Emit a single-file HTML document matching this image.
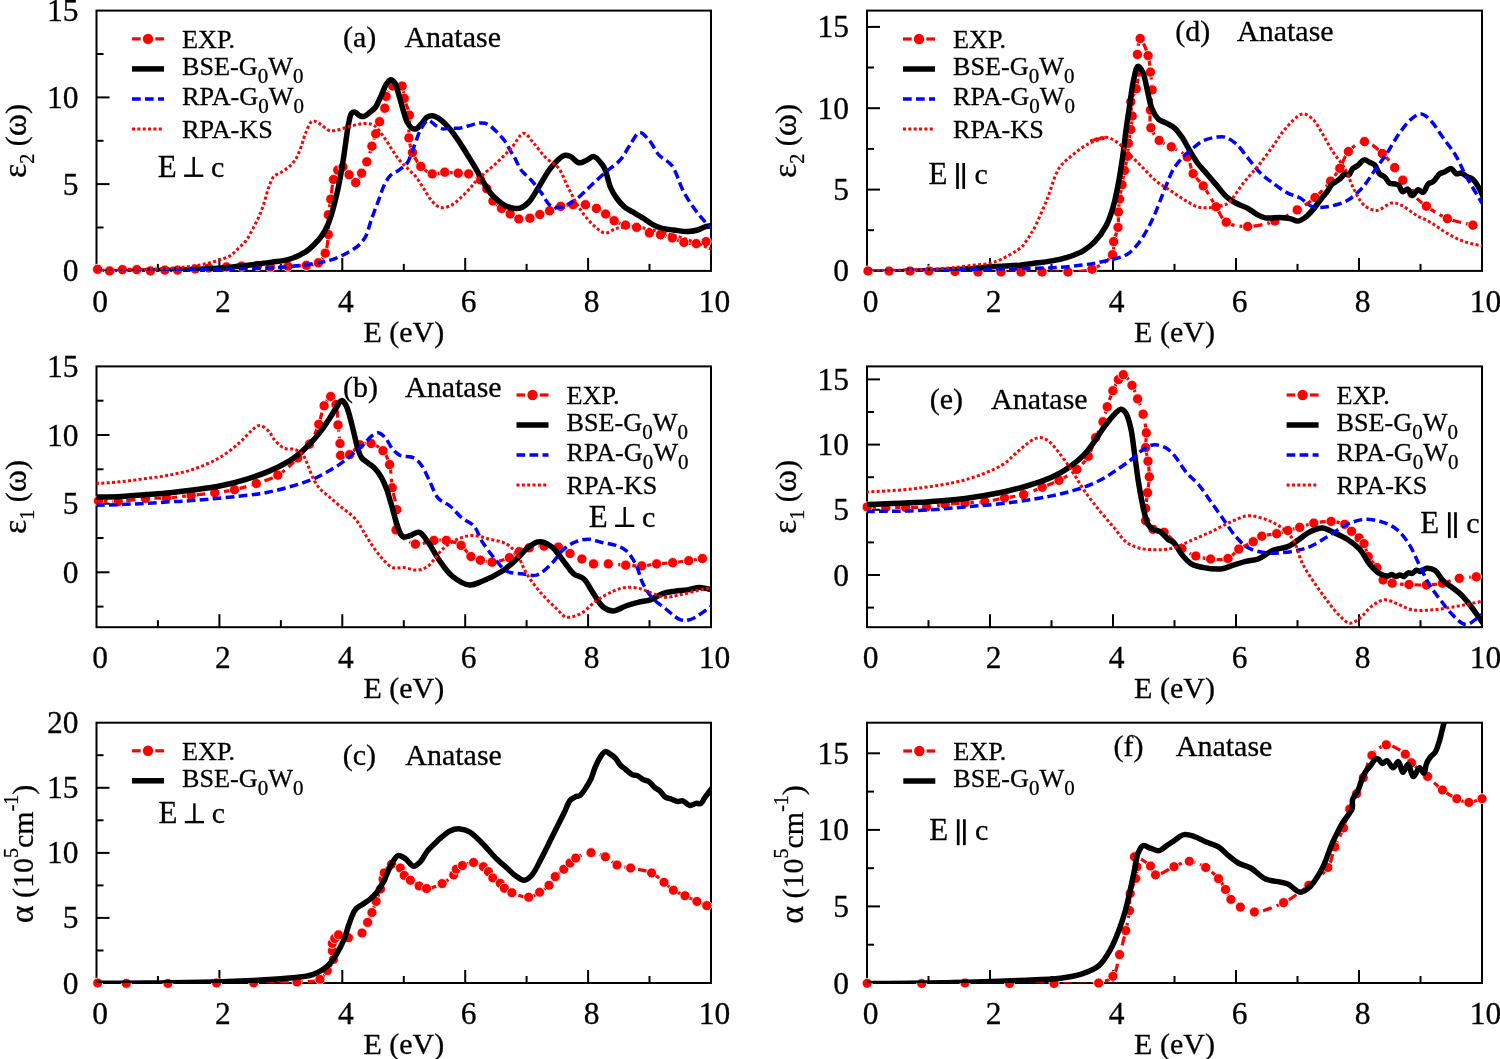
<!DOCTYPE html>
<html><head><meta charset="utf-8"><style>
html,body{margin:0;padding:0;background:#fff;}
svg{display:block;will-change:transform;}
text{font-family:"Liberation Serif", serif; fill:#000; stroke:#000; stroke-width:0.3px;}
.ax{stroke:#000;stroke-width:2;fill:none;}
.bse{stroke:#000;stroke-width:5.5;fill:none;stroke-linejoin:round;stroke-linecap:butt;}
.rpa{stroke:#00f;stroke-width:3.5;fill:none;stroke-dasharray:8.7 4.3;}
.ks{stroke:#f00;stroke-width:3;fill:none;stroke-dasharray:3 2.35;}
.expl{stroke:#f00;stroke-width:3.2;fill:none;stroke-dasharray:9 5;}
</style></head><body>
<svg width="1500" height="1059" viewBox="0 0 1500 1059">
<line x1="157.9" y1="270.9" x2="157.9" y2="263.9" class="ax"/>
<line x1="219.4" y1="270.9" x2="219.4" y2="257.9" class="ax"/>
<line x1="280.9" y1="270.9" x2="280.9" y2="263.9" class="ax"/>
<line x1="342.3" y1="270.9" x2="342.3" y2="257.9" class="ax"/>
<line x1="403.8" y1="270.9" x2="403.8" y2="263.9" class="ax"/>
<line x1="465.2" y1="270.9" x2="465.2" y2="257.9" class="ax"/>
<line x1="526.6" y1="270.9" x2="526.6" y2="263.9" class="ax"/>
<line x1="588.1" y1="270.9" x2="588.1" y2="257.9" class="ax"/>
<line x1="649.5" y1="270.9" x2="649.5" y2="263.9" class="ax"/>
<line x1="96.5" y1="227.5" x2="103.5" y2="227.5" class="ax"/>
<line x1="96.5" y1="184.1" x2="109.5" y2="184.1" class="ax"/>
<line x1="96.5" y1="140.8" x2="103.5" y2="140.8" class="ax"/>
<line x1="96.5" y1="97.4" x2="109.5" y2="97.4" class="ax"/>
<line x1="96.5" y1="54.0" x2="103.5" y2="54.0" class="ax"/>
<rect x="96.5" y="10.6" width="614.5" height="260.3" class="ax" fill="none"/>
<text x="100.0" y="311.9" font-size="31.5" text-anchor="middle" >0</text>
<text x="222.9" y="311.9" font-size="31.5" text-anchor="middle" >2</text>
<text x="345.8" y="311.9" font-size="31.5" text-anchor="middle" >4</text>
<text x="468.7" y="311.9" font-size="31.5" text-anchor="middle" >6</text>
<text x="591.6" y="311.9" font-size="31.5" text-anchor="middle" >8</text>
<text x="714.5" y="311.9" font-size="31.5" text-anchor="middle" >10</text>
<text x="78.5" y="281.4" font-size="31.5" text-anchor="end" >0</text>
<text x="78.5" y="194.6" font-size="31.5" text-anchor="end" >5</text>
<text x="78.5" y="107.9" font-size="31.5" text-anchor="end" >10</text>
<text x="78.5" y="21.1" font-size="31.5" text-anchor="end" >15</text>
<text x="403.8" y="341.9" font-size="30.0" text-anchor="middle" >E (eV)</text>
<line x1="157.9" y1="627.2" x2="157.9" y2="620.2" class="ax"/>
<line x1="219.4" y1="627.2" x2="219.4" y2="614.2" class="ax"/>
<line x1="280.9" y1="627.2" x2="280.9" y2="620.2" class="ax"/>
<line x1="342.3" y1="627.2" x2="342.3" y2="614.2" class="ax"/>
<line x1="403.8" y1="627.2" x2="403.8" y2="620.2" class="ax"/>
<line x1="465.2" y1="627.2" x2="465.2" y2="614.2" class="ax"/>
<line x1="526.6" y1="627.2" x2="526.6" y2="620.2" class="ax"/>
<line x1="588.1" y1="627.2" x2="588.1" y2="614.2" class="ax"/>
<line x1="649.5" y1="627.2" x2="649.5" y2="620.2" class="ax"/>
<line x1="96.5" y1="606.6" x2="103.5" y2="606.6" class="ax"/>
<line x1="96.5" y1="572.3" x2="109.5" y2="572.3" class="ax"/>
<line x1="96.5" y1="538.0" x2="103.5" y2="538.0" class="ax"/>
<line x1="96.5" y1="503.7" x2="109.5" y2="503.7" class="ax"/>
<line x1="96.5" y1="469.3" x2="103.5" y2="469.3" class="ax"/>
<line x1="96.5" y1="435.0" x2="109.5" y2="435.0" class="ax"/>
<line x1="96.5" y1="400.7" x2="103.5" y2="400.7" class="ax"/>
<rect x="96.5" y="366.4" width="614.5" height="260.8" class="ax" fill="none"/>
<text x="100.0" y="668.2" font-size="31.5" text-anchor="middle" >0</text>
<text x="222.9" y="668.2" font-size="31.5" text-anchor="middle" >2</text>
<text x="345.8" y="668.2" font-size="31.5" text-anchor="middle" >4</text>
<text x="468.7" y="668.2" font-size="31.5" text-anchor="middle" >6</text>
<text x="591.6" y="668.2" font-size="31.5" text-anchor="middle" >8</text>
<text x="714.5" y="668.2" font-size="31.5" text-anchor="middle" >10</text>
<text x="78.5" y="582.8" font-size="31.5" text-anchor="end" >0</text>
<text x="78.5" y="514.2" font-size="31.5" text-anchor="end" >5</text>
<text x="78.5" y="445.5" font-size="31.5" text-anchor="end" >10</text>
<text x="78.5" y="376.9" font-size="31.5" text-anchor="end" >15</text>
<text x="403.8" y="698.2" font-size="30.0" text-anchor="middle" >E (eV)</text>
<line x1="157.9" y1="983.0" x2="157.9" y2="976.0" class="ax"/>
<line x1="219.4" y1="983.0" x2="219.4" y2="970.0" class="ax"/>
<line x1="280.9" y1="983.0" x2="280.9" y2="976.0" class="ax"/>
<line x1="342.3" y1="983.0" x2="342.3" y2="970.0" class="ax"/>
<line x1="403.8" y1="983.0" x2="403.8" y2="976.0" class="ax"/>
<line x1="465.2" y1="983.0" x2="465.2" y2="970.0" class="ax"/>
<line x1="526.6" y1="983.0" x2="526.6" y2="976.0" class="ax"/>
<line x1="588.1" y1="983.0" x2="588.1" y2="970.0" class="ax"/>
<line x1="649.5" y1="983.0" x2="649.5" y2="976.0" class="ax"/>
<line x1="96.5" y1="950.5" x2="103.5" y2="950.5" class="ax"/>
<line x1="96.5" y1="917.9" x2="109.5" y2="917.9" class="ax"/>
<line x1="96.5" y1="885.4" x2="103.5" y2="885.4" class="ax"/>
<line x1="96.5" y1="852.9" x2="109.5" y2="852.9" class="ax"/>
<line x1="96.5" y1="820.3" x2="103.5" y2="820.3" class="ax"/>
<line x1="96.5" y1="787.8" x2="109.5" y2="787.8" class="ax"/>
<line x1="96.5" y1="755.2" x2="103.5" y2="755.2" class="ax"/>
<rect x="96.5" y="722.7" width="614.5" height="260.3" class="ax" fill="none"/>
<text x="100.0" y="1024.0" font-size="31.5" text-anchor="middle" >0</text>
<text x="222.9" y="1024.0" font-size="31.5" text-anchor="middle" >2</text>
<text x="345.8" y="1024.0" font-size="31.5" text-anchor="middle" >4</text>
<text x="468.7" y="1024.0" font-size="31.5" text-anchor="middle" >6</text>
<text x="591.6" y="1024.0" font-size="31.5" text-anchor="middle" >8</text>
<text x="714.5" y="1024.0" font-size="31.5" text-anchor="middle" >10</text>
<text x="78.5" y="993.5" font-size="31.5" text-anchor="end" >0</text>
<text x="78.5" y="928.4" font-size="31.5" text-anchor="end" >5</text>
<text x="78.5" y="863.4" font-size="31.5" text-anchor="end" >10</text>
<text x="78.5" y="798.3" font-size="31.5" text-anchor="end" >15</text>
<text x="78.5" y="733.2" font-size="31.5" text-anchor="end" >20</text>
<text x="403.8" y="1054.0" font-size="30.0" text-anchor="middle" >E (eV)</text>
<line x1="928.5" y1="270.9" x2="928.5" y2="263.9" class="ax"/>
<line x1="990.0" y1="270.9" x2="990.0" y2="257.9" class="ax"/>
<line x1="1051.5" y1="270.9" x2="1051.5" y2="263.9" class="ax"/>
<line x1="1113.0" y1="270.9" x2="1113.0" y2="257.9" class="ax"/>
<line x1="1174.5" y1="270.9" x2="1174.5" y2="263.9" class="ax"/>
<line x1="1236.0" y1="270.9" x2="1236.0" y2="257.9" class="ax"/>
<line x1="1297.5" y1="270.9" x2="1297.5" y2="263.9" class="ax"/>
<line x1="1359.0" y1="270.9" x2="1359.0" y2="257.9" class="ax"/>
<line x1="1420.5" y1="270.9" x2="1420.5" y2="263.9" class="ax"/>
<line x1="867.0" y1="230.2" x2="874.0" y2="230.2" class="ax"/>
<line x1="867.0" y1="189.6" x2="880.0" y2="189.6" class="ax"/>
<line x1="867.0" y1="148.9" x2="874.0" y2="148.9" class="ax"/>
<line x1="867.0" y1="108.2" x2="880.0" y2="108.2" class="ax"/>
<line x1="867.0" y1="67.5" x2="874.0" y2="67.5" class="ax"/>
<line x1="867.0" y1="26.9" x2="880.0" y2="26.9" class="ax"/>
<rect x="867.0" y="10.6" width="615.0" height="260.3" class="ax" fill="none"/>
<text x="870.5" y="311.9" font-size="31.5" text-anchor="middle" >0</text>
<text x="993.5" y="311.9" font-size="31.5" text-anchor="middle" >2</text>
<text x="1116.5" y="311.9" font-size="31.5" text-anchor="middle" >4</text>
<text x="1239.5" y="311.9" font-size="31.5" text-anchor="middle" >6</text>
<text x="1362.5" y="311.9" font-size="31.5" text-anchor="middle" >8</text>
<text x="1485.5" y="311.9" font-size="31.5" text-anchor="middle" >10</text>
<text x="849.0" y="281.4" font-size="31.5" text-anchor="end" >0</text>
<text x="849.0" y="200.1" font-size="31.5" text-anchor="end" >5</text>
<text x="849.0" y="118.7" font-size="31.5" text-anchor="end" >10</text>
<text x="849.0" y="37.4" font-size="31.5" text-anchor="end" >15</text>
<text x="1174.5" y="341.9" font-size="30.0" text-anchor="middle" >E (eV)</text>
<line x1="928.5" y1="627.2" x2="928.5" y2="620.2" class="ax"/>
<line x1="990.0" y1="627.2" x2="990.0" y2="614.2" class="ax"/>
<line x1="1051.5" y1="627.2" x2="1051.5" y2="620.2" class="ax"/>
<line x1="1113.0" y1="627.2" x2="1113.0" y2="614.2" class="ax"/>
<line x1="1174.5" y1="627.2" x2="1174.5" y2="620.2" class="ax"/>
<line x1="1236.0" y1="627.2" x2="1236.0" y2="614.2" class="ax"/>
<line x1="1297.5" y1="627.2" x2="1297.5" y2="620.2" class="ax"/>
<line x1="1359.0" y1="627.2" x2="1359.0" y2="614.2" class="ax"/>
<line x1="1420.5" y1="627.2" x2="1420.5" y2="620.2" class="ax"/>
<line x1="867.0" y1="607.6" x2="874.0" y2="607.6" class="ax"/>
<line x1="867.0" y1="575.0" x2="880.0" y2="575.0" class="ax"/>
<line x1="867.0" y1="542.4" x2="874.0" y2="542.4" class="ax"/>
<line x1="867.0" y1="509.8" x2="880.0" y2="509.8" class="ax"/>
<line x1="867.0" y1="477.2" x2="874.0" y2="477.2" class="ax"/>
<line x1="867.0" y1="444.6" x2="880.0" y2="444.6" class="ax"/>
<line x1="867.0" y1="412.0" x2="874.0" y2="412.0" class="ax"/>
<line x1="867.0" y1="379.4" x2="880.0" y2="379.4" class="ax"/>
<rect x="867.0" y="366.4" width="615.0" height="260.8" class="ax" fill="none"/>
<text x="870.5" y="668.2" font-size="31.5" text-anchor="middle" >0</text>
<text x="993.5" y="668.2" font-size="31.5" text-anchor="middle" >2</text>
<text x="1116.5" y="668.2" font-size="31.5" text-anchor="middle" >4</text>
<text x="1239.5" y="668.2" font-size="31.5" text-anchor="middle" >6</text>
<text x="1362.5" y="668.2" font-size="31.5" text-anchor="middle" >8</text>
<text x="1485.5" y="668.2" font-size="31.5" text-anchor="middle" >10</text>
<text x="849.0" y="585.5" font-size="31.5" text-anchor="end" >0</text>
<text x="849.0" y="520.3" font-size="31.5" text-anchor="end" >5</text>
<text x="849.0" y="455.1" font-size="31.5" text-anchor="end" >10</text>
<text x="849.0" y="389.9" font-size="31.5" text-anchor="end" >15</text>
<text x="1174.5" y="698.2" font-size="30.0" text-anchor="middle" >E (eV)</text>
<line x1="928.5" y1="983.0" x2="928.5" y2="976.0" class="ax"/>
<line x1="990.0" y1="983.0" x2="990.0" y2="970.0" class="ax"/>
<line x1="1051.5" y1="983.0" x2="1051.5" y2="976.0" class="ax"/>
<line x1="1113.0" y1="983.0" x2="1113.0" y2="970.0" class="ax"/>
<line x1="1174.5" y1="983.0" x2="1174.5" y2="976.0" class="ax"/>
<line x1="1236.0" y1="983.0" x2="1236.0" y2="970.0" class="ax"/>
<line x1="1297.5" y1="983.0" x2="1297.5" y2="976.0" class="ax"/>
<line x1="1359.0" y1="983.0" x2="1359.0" y2="970.0" class="ax"/>
<line x1="1420.5" y1="983.0" x2="1420.5" y2="976.0" class="ax"/>
<line x1="867.0" y1="944.7" x2="874.0" y2="944.7" class="ax"/>
<line x1="867.0" y1="906.4" x2="880.0" y2="906.4" class="ax"/>
<line x1="867.0" y1="868.2" x2="874.0" y2="868.2" class="ax"/>
<line x1="867.0" y1="829.9" x2="880.0" y2="829.9" class="ax"/>
<line x1="867.0" y1="791.6" x2="874.0" y2="791.6" class="ax"/>
<line x1="867.0" y1="753.3" x2="880.0" y2="753.3" class="ax"/>
<rect x="867.0" y="722.7" width="615.0" height="260.3" class="ax" fill="none"/>
<text x="870.5" y="1024.0" font-size="31.5" text-anchor="middle" >0</text>
<text x="993.5" y="1024.0" font-size="31.5" text-anchor="middle" >2</text>
<text x="1116.5" y="1024.0" font-size="31.5" text-anchor="middle" >4</text>
<text x="1239.5" y="1024.0" font-size="31.5" text-anchor="middle" >6</text>
<text x="1362.5" y="1024.0" font-size="31.5" text-anchor="middle" >8</text>
<text x="1485.5" y="1024.0" font-size="31.5" text-anchor="middle" >10</text>
<text x="849.0" y="993.5" font-size="31.5" text-anchor="end" >0</text>
<text x="849.0" y="916.9" font-size="31.5" text-anchor="end" >5</text>
<text x="849.0" y="840.4" font-size="31.5" text-anchor="end" >10</text>
<text x="849.0" y="763.8" font-size="31.5" text-anchor="end" >15</text>
<text x="1174.5" y="1054.0" font-size="30.0" text-anchor="middle" >E (eV)</text>
<defs><clipPath id="cpA"><rect x="96.5" y="10.6" width="614.5" height="260.3"/></clipPath></defs>
<g clip-path="url(#cpA)">
<path d="M97.6,269.3 C101.6,269.9 105.5,270.9 109.6,270.9 C113.8,271.0 118.0,269.9 122.4,269.6 C127.1,269.4 132.1,269.4 136.8,269.6 C141.4,269.9 145.8,270.8 150.4,270.9 C155.1,271.0 160.1,270.2 164.8,270.1 C169.2,270.0 173.0,270.3 177.6,270.1 C183.0,269.9 189.7,269.4 195.2,269.0 C200.0,268.7 204.0,268.4 208.8,268.0 C214.3,267.7 220.7,267.2 226.4,266.9 C231.7,266.6 236.5,266.3 241.6,266.1 C246.9,265.9 252.6,265.5 257.6,265.6 C262.1,265.8 265.8,266.8 270.4,266.9 C275.8,267.1 282.1,266.5 288.0,266.3 C294.1,266.0 300.9,266.0 306.4,265.3 C310.9,264.7 315.2,264.8 318.4,262.8 C321.5,260.7 323.6,257.2 325.2,253.2 C327.3,248.2 327.8,240.9 328.3,234.5 C328.8,228.1 327.8,221.0 328.3,214.8 C328.8,209.3 330.0,204.7 330.8,199.2 C331.7,193.0 332.0,184.8 333.5,179.5 C334.6,175.7 335.8,172.2 337.7,170.1 C339.1,168.5 341.2,166.7 342.9,167.0 C345.0,167.4 347.0,172.1 349.1,174.7 C351.3,177.3 353.7,182.7 355.7,182.6 C357.9,182.4 359.8,176.6 361.6,173.2 C363.5,169.7 365.1,166.0 366.8,161.8 C368.6,157.1 370.4,151.2 371.9,146.2 C373.3,141.9 374.4,137.9 375.7,133.8 C377.0,129.7 378.2,125.8 379.6,121.7 C381.2,117.3 383.8,112.6 384.8,108.2 C385.8,104.2 384.8,100.0 386.1,96.4 C387.4,92.6 389.8,87.6 392.7,86.0 C395.3,84.6 400.1,84.3 402.1,86.0 C404.3,87.9 403.1,94.0 404.2,98.4 C405.4,103.6 408.5,109.0 409.4,115.1 C410.3,122.0 408.2,131.2 408.9,137.9 C409.5,143.4 410.6,147.8 412.5,152.5 C414.5,157.3 417.3,162.8 420.8,166.4 C424.0,169.7 428.1,172.9 432.2,173.9 C436.1,174.8 440.4,172.3 444.7,172.2 C449.1,172.1 454.0,173.0 458.2,173.2 C461.9,173.5 465.1,172.9 468.6,173.9 C472.6,175.0 477.5,177.3 480.6,180.0 C483.4,182.4 484.8,185.4 486.8,188.7 C489.0,192.3 490.3,197.6 492.9,201.0 C495.3,204.0 498.6,206.2 501.6,208.4 C504.4,210.5 507.3,212.3 510.2,214.0 C513.0,215.8 515.6,218.2 518.8,219.0 C522.2,219.7 526.4,219.0 529.9,218.2 C533.3,217.5 536.5,215.8 539.8,214.5 C543.1,213.3 546.2,212.1 549.6,210.8 C553.2,209.4 556.9,207.4 560.7,206.4 C564.7,205.4 568.9,205.0 573.0,204.7 C577.1,204.4 581.4,204.0 585.4,204.7 C589.2,205.3 593.0,206.8 596.4,208.4 C599.7,209.9 602.6,212.0 605.6,214.0 C608.5,216.1 611.0,218.9 614.2,220.7 C617.6,222.6 621.7,224.0 625.5,225.1 C629.2,226.2 632.8,226.2 636.6,227.3 C640.8,228.7 645.2,231.8 649.4,233.0 C653.2,234.1 656.8,233.9 660.5,234.7 C664.4,235.6 668.5,236.7 672.3,237.9 C676.3,239.2 679.9,241.4 683.9,242.4 C687.9,243.3 692.4,243.8 696.2,243.6 C699.7,243.4 702.8,242.3 706.1,241.6" class="expl"/>
</g>
<circle cx="97.6" cy="269.3" r="5.10" fill="#f00" stroke="#fff" stroke-width="0.8"/>
<circle cx="109.6" cy="270.9" r="5.10" fill="#f00" stroke="#fff" stroke-width="0.8"/>
<circle cx="122.4" cy="269.6" r="5.10" fill="#f00" stroke="#fff" stroke-width="0.8"/>
<circle cx="136.8" cy="269.6" r="5.10" fill="#f00" stroke="#fff" stroke-width="0.8"/>
<circle cx="150.4" cy="270.9" r="5.10" fill="#f00" stroke="#fff" stroke-width="0.8"/>
<circle cx="164.8" cy="270.1" r="5.10" fill="#f00" stroke="#fff" stroke-width="0.8"/>
<circle cx="177.6" cy="270.1" r="5.10" fill="#f00" stroke="#fff" stroke-width="0.8"/>
<circle cx="195.2" cy="269.0" r="5.10" fill="#f00" stroke="#fff" stroke-width="0.8"/>
<circle cx="208.8" cy="268.0" r="5.10" fill="#f00" stroke="#fff" stroke-width="0.8"/>
<circle cx="226.4" cy="266.9" r="5.10" fill="#f00" stroke="#fff" stroke-width="0.8"/>
<circle cx="241.6" cy="266.1" r="5.10" fill="#f00" stroke="#fff" stroke-width="0.8"/>
<circle cx="257.6" cy="265.6" r="5.10" fill="#f00" stroke="#fff" stroke-width="0.8"/>
<circle cx="270.4" cy="266.9" r="5.10" fill="#f00" stroke="#fff" stroke-width="0.8"/>
<circle cx="288.0" cy="266.3" r="5.10" fill="#f00" stroke="#fff" stroke-width="0.8"/>
<circle cx="306.4" cy="265.3" r="5.10" fill="#f00" stroke="#fff" stroke-width="0.8"/>
<circle cx="318.4" cy="262.8" r="5.10" fill="#f00" stroke="#fff" stroke-width="0.8"/>
<circle cx="325.2" cy="253.2" r="5.10" fill="#f00" stroke="#fff" stroke-width="0.8"/>
<circle cx="328.3" cy="234.5" r="5.10" fill="#f00" stroke="#fff" stroke-width="0.8"/>
<circle cx="328.3" cy="214.8" r="5.10" fill="#f00" stroke="#fff" stroke-width="0.8"/>
<circle cx="330.8" cy="199.2" r="5.10" fill="#f00" stroke="#fff" stroke-width="0.8"/>
<circle cx="333.5" cy="179.5" r="5.10" fill="#f00" stroke="#fff" stroke-width="0.8"/>
<circle cx="337.7" cy="170.1" r="5.10" fill="#f00" stroke="#fff" stroke-width="0.8"/>
<circle cx="342.9" cy="167.0" r="5.10" fill="#f00" stroke="#fff" stroke-width="0.8"/>
<circle cx="349.1" cy="174.7" r="5.10" fill="#f00" stroke="#fff" stroke-width="0.8"/>
<circle cx="355.7" cy="182.6" r="5.10" fill="#f00" stroke="#fff" stroke-width="0.8"/>
<circle cx="361.6" cy="173.2" r="5.10" fill="#f00" stroke="#fff" stroke-width="0.8"/>
<circle cx="366.8" cy="161.8" r="5.10" fill="#f00" stroke="#fff" stroke-width="0.8"/>
<circle cx="371.9" cy="146.2" r="5.10" fill="#f00" stroke="#fff" stroke-width="0.8"/>
<circle cx="375.7" cy="133.8" r="5.10" fill="#f00" stroke="#fff" stroke-width="0.8"/>
<circle cx="379.6" cy="121.7" r="5.10" fill="#f00" stroke="#fff" stroke-width="0.8"/>
<circle cx="384.8" cy="108.2" r="5.10" fill="#f00" stroke="#fff" stroke-width="0.8"/>
<circle cx="386.1" cy="96.4" r="5.10" fill="#f00" stroke="#fff" stroke-width="0.8"/>
<circle cx="392.7" cy="86.0" r="5.10" fill="#f00" stroke="#fff" stroke-width="0.8"/>
<circle cx="402.1" cy="86.0" r="5.10" fill="#f00" stroke="#fff" stroke-width="0.8"/>
<circle cx="404.2" cy="98.4" r="5.10" fill="#f00" stroke="#fff" stroke-width="0.8"/>
<circle cx="409.4" cy="115.1" r="5.10" fill="#f00" stroke="#fff" stroke-width="0.8"/>
<circle cx="408.9" cy="137.9" r="5.10" fill="#f00" stroke="#fff" stroke-width="0.8"/>
<circle cx="412.5" cy="152.5" r="5.10" fill="#f00" stroke="#fff" stroke-width="0.8"/>
<circle cx="420.8" cy="166.4" r="5.10" fill="#f00" stroke="#fff" stroke-width="0.8"/>
<circle cx="432.2" cy="173.9" r="5.10" fill="#f00" stroke="#fff" stroke-width="0.8"/>
<circle cx="444.7" cy="172.2" r="5.10" fill="#f00" stroke="#fff" stroke-width="0.8"/>
<circle cx="458.2" cy="173.2" r="5.10" fill="#f00" stroke="#fff" stroke-width="0.8"/>
<circle cx="468.6" cy="173.9" r="5.10" fill="#f00" stroke="#fff" stroke-width="0.8"/>
<circle cx="480.6" cy="180.0" r="5.10" fill="#f00" stroke="#fff" stroke-width="0.8"/>
<circle cx="486.8" cy="188.7" r="5.10" fill="#f00" stroke="#fff" stroke-width="0.8"/>
<circle cx="492.9" cy="201.0" r="5.10" fill="#f00" stroke="#fff" stroke-width="0.8"/>
<circle cx="501.6" cy="208.4" r="5.10" fill="#f00" stroke="#fff" stroke-width="0.8"/>
<circle cx="510.2" cy="214.0" r="5.10" fill="#f00" stroke="#fff" stroke-width="0.8"/>
<circle cx="518.8" cy="219.0" r="5.10" fill="#f00" stroke="#fff" stroke-width="0.8"/>
<circle cx="529.9" cy="218.2" r="5.10" fill="#f00" stroke="#fff" stroke-width="0.8"/>
<circle cx="539.8" cy="214.5" r="5.10" fill="#f00" stroke="#fff" stroke-width="0.8"/>
<circle cx="549.6" cy="210.8" r="5.10" fill="#f00" stroke="#fff" stroke-width="0.8"/>
<circle cx="560.7" cy="206.4" r="5.10" fill="#f00" stroke="#fff" stroke-width="0.8"/>
<circle cx="573.0" cy="204.7" r="5.10" fill="#f00" stroke="#fff" stroke-width="0.8"/>
<circle cx="585.4" cy="204.7" r="5.10" fill="#f00" stroke="#fff" stroke-width="0.8"/>
<circle cx="596.4" cy="208.4" r="5.10" fill="#f00" stroke="#fff" stroke-width="0.8"/>
<circle cx="605.6" cy="214.0" r="5.10" fill="#f00" stroke="#fff" stroke-width="0.8"/>
<circle cx="614.2" cy="220.7" r="5.10" fill="#f00" stroke="#fff" stroke-width="0.8"/>
<circle cx="625.5" cy="225.1" r="5.10" fill="#f00" stroke="#fff" stroke-width="0.8"/>
<circle cx="636.6" cy="227.3" r="5.10" fill="#f00" stroke="#fff" stroke-width="0.8"/>
<circle cx="649.4" cy="233.0" r="5.10" fill="#f00" stroke="#fff" stroke-width="0.8"/>
<circle cx="660.5" cy="234.7" r="5.10" fill="#f00" stroke="#fff" stroke-width="0.8"/>
<circle cx="672.3" cy="237.9" r="5.10" fill="#f00" stroke="#fff" stroke-width="0.8"/>
<circle cx="683.9" cy="242.4" r="5.10" fill="#f00" stroke="#fff" stroke-width="0.8"/>
<circle cx="696.2" cy="243.6" r="5.10" fill="#f00" stroke="#fff" stroke-width="0.8"/>
<circle cx="706.1" cy="241.6" r="5.10" fill="#f00" stroke="#fff" stroke-width="0.8"/>
<g clip-path="url(#cpA)">
<path d="M96.0,272.5 C106.7,272.3 117.3,272.0 128.0,271.7 C138.7,271.4 149.3,271.0 160.0,270.6 C170.7,270.2 181.3,270.0 192.0,269.5 C202.7,269.0 213.3,268.6 224.0,267.7 C234.7,266.8 247.2,265.3 256.0,264.2 C262.3,263.4 266.7,262.9 272.0,262.1 C277.3,261.4 282.6,261.3 288.0,259.7 C293.8,258.0 301.0,254.8 305.6,251.9 C309.2,249.6 311.5,247.1 314.2,244.5 C316.6,242.1 318.9,239.8 321.0,236.9 C323.5,233.4 325.9,229.2 327.8,224.9 C329.9,220.2 331.4,214.8 332.9,209.5 C334.5,204.0 335.9,198.2 337.2,192.5 C338.5,186.8 339.5,181.3 340.6,175.4 C341.8,168.9 343.0,161.6 344.0,154.9 C345.0,148.5 345.7,142.0 346.6,136.1 C347.4,130.7 348.1,124.9 349.2,120.7 C349.9,117.7 350.3,114.3 351.7,113.1 C352.6,112.2 354.0,112.0 355.1,112.2 C356.6,112.5 357.9,114.9 359.4,115.6 C360.8,116.2 362.2,116.8 363.7,116.5 C365.7,116.1 368.0,113.7 370.0,112.2 C371.8,110.8 373.5,109.8 375.1,107.8 C377.4,104.8 379.4,99.4 381.3,95.3 C383.1,91.4 384.6,86.6 386.5,83.9 C387.8,82.0 389.2,79.8 390.6,79.7 C392.0,79.6 393.6,81.2 394.8,82.9 C396.7,85.5 397.6,91.0 399.0,95.3 C400.4,100.0 401.7,105.2 403.1,109.9 C404.5,114.2 405.4,119.0 407.3,122.3 C408.7,124.9 410.6,127.7 412.5,128.6 C413.8,129.2 415.3,129.1 416.6,128.6 C418.4,127.8 420.1,125.2 421.8,123.4 C423.6,121.4 425.1,118.4 427.0,117.1 C428.6,116.1 430.4,115.6 432.2,115.7 C434.2,115.8 436.5,117.0 438.4,118.2 C440.6,119.5 442.7,121.4 444.7,123.4 C446.8,125.5 449.0,127.9 451.0,130.3 C453.0,132.8 454.8,135.4 456.7,138.1 C458.6,140.8 460.5,143.7 462.3,146.6 C464.3,149.6 466.1,152.7 468.0,155.8 C469.9,158.9 471.8,161.9 473.7,165.0 C475.6,168.2 477.5,171.6 479.3,174.9 C481.2,178.2 483.1,181.7 485.0,184.8 C486.8,187.8 488.5,190.7 490.7,193.3 C492.8,195.9 495.3,198.4 497.8,200.4 C500.0,202.3 502.3,204.1 504.8,205.4 C507.5,206.7 510.7,207.8 513.3,208.2 C515.7,208.6 517.8,208.9 520.0,208.2 C522.8,207.3 525.9,205.0 528.7,202.2 C532.2,198.6 535.1,192.7 538.5,187.4 C542.5,181.4 546.2,173.3 550.9,167.7 C555.0,162.8 560.5,156.5 564.4,155.4 C566.7,154.8 568.4,155.7 570.6,156.6 C573.3,157.8 576.3,162.4 579.2,162.8 C581.7,163.2 584.2,161.3 586.6,160.3 C589.1,159.3 591.6,156.2 594.0,156.6 C596.9,157.1 600.6,162.5 602.6,165.2 C604.1,167.2 604.6,168.6 605.6,171.0 C607.2,175.0 608.4,182.4 610.4,187.2 C612.2,191.4 614.4,195.1 616.9,198.5 C619.3,201.8 622.1,205.0 624.9,207.4 C627.5,209.4 630.2,210.5 633.0,212.2 C636.1,214.0 639.5,215.9 642.7,217.9 C646.0,219.9 649.1,222.5 652.4,224.3 C655.5,226.0 658.7,227.4 662.1,228.4 C665.6,229.3 669.4,229.5 673.4,230.0 C677.9,230.5 683.6,231.7 687.9,231.6 C691.5,231.5 694.6,230.8 697.6,230.0 C700.5,229.2 702.9,227.5 705.7,226.7 C708.3,225.9 711.0,225.7 713.7,225.1" class="bse"/>
<path d="M96.0,272.2 C117.3,271.7 138.7,271.1 160.0,270.6 C181.3,270.1 204.2,269.5 224.0,269.0 C241.1,268.6 260.3,268.4 272.0,267.9 C278.8,267.6 282.7,267.4 288.0,266.9 C293.3,266.4 298.7,265.7 304.0,265.0 C309.3,264.3 315.0,263.6 320.0,262.6 C324.5,261.7 328.4,261.0 332.8,259.4 C337.8,257.6 343.8,254.8 348.3,252.2 C352.2,250.1 355.7,248.1 358.6,245.4 C361.3,242.9 363.4,240.5 365.4,236.9 C368.1,232.0 369.7,224.0 371.9,217.9 C374.0,212.2 376.1,206.8 378.2,201.3 C380.3,195.8 382.0,189.3 384.4,184.7 C386.3,181.0 388.1,177.8 390.6,175.3 C393.0,173.0 396.3,172.1 399.0,170.1 C401.8,168.0 405.2,165.7 407.3,162.9 C409.3,160.2 410.0,156.9 411.3,153.7 C412.8,150.1 414.0,146.3 415.6,142.3 C417.3,137.9 418.8,132.0 421.3,128.2 C423.3,125.0 425.8,120.7 428.3,120.4 C430.6,120.1 433.0,123.9 435.4,125.3 C437.7,126.7 440.1,128.4 442.5,128.9 C444.8,129.3 447.0,128.3 449.6,128.2 C452.6,128.0 456.4,128.6 459.5,128.2 C462.5,127.8 465.1,126.8 468.0,126.0 C471.2,125.2 474.9,123.6 477.9,123.2 C480.5,122.9 482.7,122.6 485.0,123.2 C487.5,123.9 489.8,125.7 492.1,127.5 C494.6,129.4 497.0,132.2 499.2,134.5 C501.2,136.7 503.1,138.5 504.8,140.9 C506.9,143.8 508.7,147.8 510.5,150.8 C512.0,153.4 513.2,155.2 514.8,157.9 C516.7,161.4 518.6,166.5 521.3,170.2 C524.0,173.9 528.0,176.5 531.1,180.0 C534.5,183.8 537.8,188.1 541.0,192.4 C544.3,196.7 547.0,203.6 550.9,205.9 C553.8,207.7 557.2,207.7 560.7,207.1 C565.3,206.4 570.8,203.0 575.5,199.7 C580.7,196.2 585.4,190.7 590.3,186.2 C595.2,181.7 600.1,177.0 605.1,172.6 C609.9,168.4 615.7,164.9 619.9,160.3 C623.9,155.9 626.4,150.3 629.7,145.5 C632.9,141.0 636.1,132.9 639.6,132.5 C642.7,132.1 646.4,137.2 649.4,140.6 C653.0,144.6 655.4,151.2 659.3,155.4 C662.9,159.3 668.0,160.6 671.6,165.2 C676.6,171.7 679.3,183.9 683.9,192.4 C688.3,200.3 693.8,208.2 698.7,214.5 C702.8,219.8 706.9,223.6 711.0,228.1" class="rpa"/>
<path d="M96.0,270.6 C112.0,270.2 129.6,270.0 144.0,269.5 C155.7,269.0 166.1,268.7 176.0,267.9 C184.6,267.2 192.8,266.3 200.0,265.0 C205.9,263.9 210.9,262.6 216.0,261.0 C220.9,259.5 226.1,258.2 230.0,255.9 C233.3,253.9 235.4,251.2 238.1,248.6 C240.8,246.0 243.8,243.6 246.2,240.5 C248.7,237.2 250.5,233.2 252.6,229.2 C254.8,225.1 257.2,220.7 259.1,216.3 C260.9,212.1 262.4,208.0 263.9,203.4 C265.6,198.3 267.0,192.0 268.8,187.2 C270.3,183.3 271.3,179.3 273.6,176.7 C275.7,174.4 279.0,173.6 281.7,171.9 C284.4,170.1 287.4,168.5 289.8,166.2 C292.2,163.9 294.4,161.2 296.2,158.2 C298.2,154.8 299.5,150.9 301.1,146.8 C302.8,142.3 303.9,136.8 305.9,132.3 C307.8,128.2 309.6,122.0 312.4,121.0 C314.7,120.2 317.7,122.8 320.5,124.2 C323.6,125.9 325.9,129.9 330.0,130.7 C335.9,131.8 346.7,126.7 353.2,125.5 C358.0,124.5 362.0,123.2 365.7,123.4 C368.8,123.5 371.5,123.9 374.0,125.5 C377.1,127.3 379.7,131.4 382.3,134.8 C385.2,138.6 387.9,143.1 390.6,147.3 C393.4,151.4 396.0,156.1 399.0,159.7 C401.6,162.9 404.5,165.3 407.3,168.1 C410.0,170.8 413.0,173.2 415.6,176.4 C418.5,180.0 421.1,184.7 423.9,188.8 C426.7,193.0 429.1,198.0 432.2,201.3 C434.8,204.0 437.4,206.8 440.5,207.5 C443.6,208.2 447.6,207.0 450.9,205.5 C454.6,203.7 458.1,200.0 461.3,197.1 C464.3,194.5 467.0,191.7 469.6,188.8 C472.2,186.0 473.7,183.3 476.9,180.0 C481.8,175.1 490.6,168.4 496.6,162.8 C502.0,157.8 506.8,153.0 511.4,148.0 C515.8,143.2 519.8,133.4 523.7,133.2 C527.1,133.1 530.2,139.4 533.6,143.1 C537.6,147.4 541.6,153.6 545.9,157.9 C549.9,161.7 554.8,163.4 558.2,167.7 C562.4,172.8 564.6,180.7 568.1,187.4 C571.9,194.6 575.8,202.9 580.4,209.6 C584.8,216.0 590.5,222.8 595.2,226.9 C598.6,229.8 601.5,232.7 605.1,233.0 C608.9,233.4 612.7,229.1 617.4,228.1 C623.1,226.8 631.3,226.5 637.1,226.9 C641.7,227.2 644.9,228.3 649.4,229.3 C655.2,230.6 662.8,232.6 669.1,234.2 C675.1,235.8 680.2,237.1 686.4,239.2 C693.9,241.8 702.8,245.7 711.0,249.0" class="ks"/>
</g>
<line x1="132.0" y1="38.9" x2="140.7" y2="38.9" class="expl" stroke-dasharray="none"/>
<line x1="155.3" y1="38.9" x2="164.0" y2="38.9" class="expl" stroke-dasharray="none"/>
<circle cx="148.0" cy="38.9" r="5.2" fill="#f00"/>
<line x1="132.0" y1="68.9" x2="164.0" y2="68.9" class="bse"/>
<line x1="132.0" y1="98.9" x2="164.0" y2="98.9" class="rpa" stroke-dasharray="8.7 4.3"/>
<line x1="132.0" y1="128.9" x2="164.0" y2="128.9" class="ks"/>
<text x="182.0" y="48.0" font-size="26.2" text-anchor="start" >EXP.</text>
<text x="182.0" y="74.7" font-size="26.2" text-anchor="start" >BSE-G<tspan font-size="21" dy="8">0</tspan><tspan dy="-8">W</tspan><tspan font-size="21" dy="8">0</tspan></text>
<text x="182.0" y="104.7" font-size="26.2" text-anchor="start" >RPA-G<tspan font-size="21" dy="8">0</tspan><tspan dy="-8">W</tspan><tspan font-size="21" dy="8">0</tspan></text>
<text x="182.0" y="138.1" font-size="26.2" text-anchor="start" >RPA-KS</text>
<text x="343.0" y="47.3" font-size="30.0" text-anchor="start" >(a)</text>
<text x="404.4" y="47.2" font-size="30.0" text-anchor="start" >Anatase</text>
<text x="157.7" y="176.9" font-size="31.0" text-anchor="start" >E</text>
<line x1="193.7" y1="156.9" x2="193.7" y2="175.7" stroke="#000" stroke-width="2.4"/>
<line x1="184.1" y1="175.7" x2="203.3" y2="175.7" stroke="#000" stroke-width="2.4"/>
<text x="211.1" y="176.9" font-size="30.0" text-anchor="start" >c</text>
<text transform="translate(26.0,141.0) rotate(-90)" font-size="30" text-anchor="middle"><tspan font-size="34">&#949;</tspan><tspan font-size="20" dy="8">2</tspan><tspan dy="-8"> (</tspan><tspan font-size="34">&#969;</tspan>)</text>
<defs><clipPath id="cpB"><rect x="96.5" y="366.4" width="614.5" height="260.8"/></clipPath></defs>
<g clip-path="url(#cpB)">
<path d="M98.5,500.8 C105.1,501.1 111.2,501.9 118.3,501.6 C126.6,501.2 137.0,499.0 145.5,498.4 C152.9,497.8 159.2,498.3 166.5,497.9 C174.4,497.4 183.1,496.3 191.2,495.4 C199.2,494.5 207.3,493.7 214.8,492.7 C221.6,491.8 227.8,491.2 234.5,489.7 C241.7,488.2 249.1,485.9 256.3,483.5 C263.6,481.1 271.1,479.2 277.8,475.2 C285.0,470.9 292.1,463.6 297.7,458.0 C302.4,453.3 306.2,449.4 309.6,444.1 C313.3,438.3 316.4,430.9 318.8,424.3 C321.1,418.1 321.7,410.7 324.1,405.8 C326.0,402.0 328.7,396.5 330.7,396.5 C332.6,396.6 334.8,401.0 336.0,404.5 C337.8,409.5 337.3,418.3 338.0,424.9 C338.6,431.3 339.5,438.0 340.0,443.5 C340.3,447.9 338.7,453.6 340.6,455.4 C342.3,456.8 346.8,456.0 349.6,454.7 C353.2,453.1 356.0,446.6 359.8,444.8 C363.2,443.2 367.4,442.7 371.1,443.5 C375.1,444.3 379.9,447.3 383.0,450.7 C386.2,454.3 388.0,459.2 389.6,464.6 C391.5,471.2 391.0,480.2 392.2,487.7 C393.4,495.2 396.2,502.4 396.8,509.6 C397.4,516.4 393.3,524.4 396.0,530.0 C398.9,536.1 408.6,542.7 415.4,544.1 C421.3,545.4 428.3,541.0 433.9,540.4 C438.4,540.0 442.0,539.7 446.3,540.4 C451.1,541.2 457.0,542.6 461.1,545.4 C465.2,548.0 467.5,554.0 471.0,556.5 C474.0,558.6 477.1,559.3 480.4,560.2 C484.1,561.2 487.8,562.4 492.1,562.2 C497.3,562.0 504.5,559.8 509.4,557.7 C513.3,556.1 515.9,553.2 519.3,551.6 C522.5,550.0 525.5,548.7 529.2,547.8 C533.6,546.8 539.1,546.2 544.0,546.1 C548.8,546.0 554.0,545.8 558.4,547.1 C562.6,548.3 566.1,551.5 570.0,553.5 C573.9,555.5 577.9,557.2 581.9,559.0 C585.8,560.7 589.3,563.1 593.5,563.9 C598.1,564.9 603.2,563.7 608.3,563.9 C613.9,564.1 620.0,564.8 625.7,565.2 C631.1,565.5 636.5,566.1 641.7,565.9 C646.8,565.7 651.5,564.5 656.6,563.9 C661.8,563.4 667.3,563.2 672.7,562.7 C678.0,562.1 683.6,561.4 688.7,560.7 C693.5,560.0 697.8,559.2 702.4,558.5" class="expl"/>
</g>
<circle cx="98.5" cy="500.8" r="5.10" fill="#f00" stroke="#fff" stroke-width="0.8"/>
<circle cx="118.3" cy="501.6" r="5.10" fill="#f00" stroke="#fff" stroke-width="0.8"/>
<circle cx="145.5" cy="498.4" r="5.10" fill="#f00" stroke="#fff" stroke-width="0.8"/>
<circle cx="166.5" cy="497.9" r="5.10" fill="#f00" stroke="#fff" stroke-width="0.8"/>
<circle cx="191.2" cy="495.4" r="5.10" fill="#f00" stroke="#fff" stroke-width="0.8"/>
<circle cx="214.8" cy="492.7" r="5.10" fill="#f00" stroke="#fff" stroke-width="0.8"/>
<circle cx="234.5" cy="489.7" r="5.10" fill="#f00" stroke="#fff" stroke-width="0.8"/>
<circle cx="256.3" cy="483.5" r="5.10" fill="#f00" stroke="#fff" stroke-width="0.8"/>
<circle cx="277.8" cy="475.2" r="5.10" fill="#f00" stroke="#fff" stroke-width="0.8"/>
<circle cx="297.7" cy="458.0" r="5.10" fill="#f00" stroke="#fff" stroke-width="0.8"/>
<circle cx="309.6" cy="444.1" r="5.10" fill="#f00" stroke="#fff" stroke-width="0.8"/>
<circle cx="318.8" cy="424.3" r="5.10" fill="#f00" stroke="#fff" stroke-width="0.8"/>
<circle cx="324.1" cy="405.8" r="5.10" fill="#f00" stroke="#fff" stroke-width="0.8"/>
<circle cx="330.7" cy="396.5" r="5.10" fill="#f00" stroke="#fff" stroke-width="0.8"/>
<circle cx="336.0" cy="404.5" r="5.10" fill="#f00" stroke="#fff" stroke-width="0.8"/>
<circle cx="338.0" cy="424.9" r="5.10" fill="#f00" stroke="#fff" stroke-width="0.8"/>
<circle cx="340.0" cy="443.5" r="5.10" fill="#f00" stroke="#fff" stroke-width="0.8"/>
<circle cx="340.6" cy="455.4" r="5.10" fill="#f00" stroke="#fff" stroke-width="0.8"/>
<circle cx="349.6" cy="454.7" r="5.10" fill="#f00" stroke="#fff" stroke-width="0.8"/>
<circle cx="359.8" cy="444.8" r="5.10" fill="#f00" stroke="#fff" stroke-width="0.8"/>
<circle cx="371.1" cy="443.5" r="5.10" fill="#f00" stroke="#fff" stroke-width="0.8"/>
<circle cx="383.0" cy="450.7" r="5.10" fill="#f00" stroke="#fff" stroke-width="0.8"/>
<circle cx="389.6" cy="464.6" r="5.10" fill="#f00" stroke="#fff" stroke-width="0.8"/>
<circle cx="392.2" cy="487.7" r="5.10" fill="#f00" stroke="#fff" stroke-width="0.8"/>
<circle cx="396.8" cy="509.6" r="5.10" fill="#f00" stroke="#fff" stroke-width="0.8"/>
<circle cx="396.0" cy="530.0" r="5.10" fill="#f00" stroke="#fff" stroke-width="0.8"/>
<circle cx="415.4" cy="544.1" r="5.10" fill="#f00" stroke="#fff" stroke-width="0.8"/>
<circle cx="433.9" cy="540.4" r="5.10" fill="#f00" stroke="#fff" stroke-width="0.8"/>
<circle cx="446.3" cy="540.4" r="5.10" fill="#f00" stroke="#fff" stroke-width="0.8"/>
<circle cx="461.1" cy="545.4" r="5.10" fill="#f00" stroke="#fff" stroke-width="0.8"/>
<circle cx="471.0" cy="556.5" r="5.10" fill="#f00" stroke="#fff" stroke-width="0.8"/>
<circle cx="480.4" cy="560.2" r="5.10" fill="#f00" stroke="#fff" stroke-width="0.8"/>
<circle cx="492.1" cy="562.2" r="5.10" fill="#f00" stroke="#fff" stroke-width="0.8"/>
<circle cx="509.4" cy="557.7" r="5.10" fill="#f00" stroke="#fff" stroke-width="0.8"/>
<circle cx="519.3" cy="551.6" r="5.10" fill="#f00" stroke="#fff" stroke-width="0.8"/>
<circle cx="529.2" cy="547.8" r="5.10" fill="#f00" stroke="#fff" stroke-width="0.8"/>
<circle cx="544.0" cy="546.1" r="5.10" fill="#f00" stroke="#fff" stroke-width="0.8"/>
<circle cx="558.4" cy="547.1" r="5.10" fill="#f00" stroke="#fff" stroke-width="0.8"/>
<circle cx="570.0" cy="553.5" r="5.10" fill="#f00" stroke="#fff" stroke-width="0.8"/>
<circle cx="581.9" cy="559.0" r="5.10" fill="#f00" stroke="#fff" stroke-width="0.8"/>
<circle cx="593.5" cy="563.9" r="5.10" fill="#f00" stroke="#fff" stroke-width="0.8"/>
<circle cx="608.3" cy="563.9" r="5.10" fill="#f00" stroke="#fff" stroke-width="0.8"/>
<circle cx="625.7" cy="565.2" r="5.10" fill="#f00" stroke="#fff" stroke-width="0.8"/>
<circle cx="641.7" cy="565.9" r="5.10" fill="#f00" stroke="#fff" stroke-width="0.8"/>
<circle cx="656.6" cy="563.9" r="5.10" fill="#f00" stroke="#fff" stroke-width="0.8"/>
<circle cx="672.7" cy="562.7" r="5.10" fill="#f00" stroke="#fff" stroke-width="0.8"/>
<circle cx="688.7" cy="560.7" r="5.10" fill="#f00" stroke="#fff" stroke-width="0.8"/>
<circle cx="702.4" cy="558.5" r="5.10" fill="#f00" stroke="#fff" stroke-width="0.8"/>
<g clip-path="url(#cpB)">
<path d="M96.0,497.1 C104.2,496.9 112.5,496.8 120.7,496.4 C129.0,496.0 137.2,495.3 145.5,494.6 C153.7,494.0 162.0,493.5 170.2,492.7 C178.5,491.8 186.7,490.8 195.0,489.7 C203.2,488.6 211.5,487.6 219.7,486.0 C228.0,484.3 236.3,482.3 244.4,479.8 C252.7,477.3 261.5,474.4 269.2,471.1 C276.2,468.2 283.5,464.6 289.0,461.2 C293.2,458.7 296.2,456.3 299.7,453.4 C303.3,450.4 306.9,446.9 310.2,443.5 C313.5,440.1 316.5,436.7 319.5,432.9 C322.7,428.8 326.0,423.9 328.7,419.7 C331.2,416.0 333.4,412.2 335.4,409.1 C336.9,406.6 338.0,404.0 339.3,402.5 C340.2,401.5 341.0,400.4 342.0,400.5 C343.2,400.6 344.8,403.1 345.9,405.1 C347.6,408.1 348.7,412.7 349.9,417.0 C351.3,421.9 352.5,427.6 353.9,432.9 C355.2,438.2 356.3,444.2 357.8,448.7 C359.0,452.3 359.9,455.5 361.8,458.0 C363.5,460.3 366.2,461.5 368.4,463.3 C370.6,465.1 373.0,466.4 375.0,468.6 C377.4,471.1 379.7,474.4 381.6,477.8 C383.7,481.5 385.4,485.6 386.9,489.7 C388.5,494.0 389.1,497.6 390.9,503.0 C393.7,511.6 398.0,533.8 403.0,536.7 C405.3,538.0 407.9,536.1 410.4,535.5 C413.2,534.7 416.4,531.6 419.1,532.3 C422.2,533.0 424.8,537.8 427.7,541.7 C431.7,546.9 435.8,555.5 440.1,561.4 C444.1,566.9 447.5,572.4 452.5,576.3 C457.4,580.2 464.4,584.5 469.8,585.0 C474.2,585.3 477.6,583.0 482.2,581.2 C488.1,578.9 496.0,575.2 502.0,571.3 C507.5,567.7 512.2,563.2 516.8,559.0 C521.2,554.9 525.0,549.6 529.2,546.6 C532.5,544.2 535.6,541.8 539.1,541.7 C542.9,541.5 547.6,543.8 551.4,546.6 C556.0,549.9 559.9,556.7 563.8,561.4 C567.3,565.7 570.1,570.9 573.7,573.8 C576.8,576.3 580.6,576.1 583.6,578.8 C587.4,582.1 590.2,588.8 593.5,593.6 C596.8,598.3 599.6,604.3 603.4,607.2 C606.4,609.5 609.8,611.0 613.3,610.9 C617.2,610.9 621.5,607.4 625.7,606.0 C629.8,604.6 633.9,603.3 638.0,602.3 C642.1,601.2 646.4,601.2 650.4,599.8 C654.6,598.3 658.5,595.1 662.8,593.6 C666.8,592.2 671.0,591.8 675.1,591.1 C679.3,590.5 683.4,590.5 687.5,589.9 C691.7,589.3 695.8,587.4 699.9,587.4 C704.0,587.4 708.1,589.1 712.3,589.9" class="bse"/>
<path d="M96.0,505.3 C104.2,505.0 112.5,504.9 120.7,504.5 C129.0,504.2 137.2,503.8 145.5,503.3 C153.7,502.9 162.0,502.3 170.2,501.8 C178.5,501.3 184.8,501.2 195.0,500.3 C211.5,499.0 246.6,495.7 260.0,493.7 C266.1,492.8 268.8,492.0 273.2,491.1 C277.6,490.1 282.0,489.0 286.4,487.7 C290.9,486.5 295.3,485.2 299.7,483.8 C304.1,482.3 308.5,481.0 312.9,479.2 C317.3,477.3 321.7,474.9 326.1,472.5 C330.6,470.1 335.0,467.6 339.3,464.6 C343.8,461.5 348.4,457.5 352.5,454.0 C356.3,450.9 359.8,447.9 363.1,444.8 C366.4,441.7 369.3,437.5 372.4,435.5 C374.6,434.1 376.9,432.6 379.0,432.9 C381.3,433.2 383.6,435.9 385.6,438.2 C388.1,440.9 389.7,445.8 392.2,448.7 C394.5,451.4 396.8,453.8 400.0,455.4 C403.8,457.2 410.2,456.0 414.0,458.0 C417.4,459.8 419.6,462.6 422.0,466.0 C425.0,470.2 427.3,476.7 430.0,482.0 C432.7,487.3 434.4,493.9 438.0,498.0 C441.2,501.7 446.1,502.8 450.0,506.0 C454.2,509.4 457.8,514.6 462.0,518.0 C465.9,521.2 470.7,522.4 474.0,526.0 C477.6,530.0 478.8,536.3 482.2,541.7 C486.2,548.0 492.4,556.1 497.0,561.4 C500.5,565.5 502.9,569.3 506.9,571.3 C511.1,573.5 516.8,573.2 521.8,573.8 C526.7,574.4 531.9,576.4 536.6,575.1 C541.8,573.5 546.9,568.2 551.4,563.9 C556.0,559.6 559.3,552.9 563.8,549.1 C567.7,545.8 571.9,543.3 576.2,541.7 C580.2,540.1 584.4,539.1 588.6,539.2 C592.7,539.3 596.6,541.2 600.9,542.2 C605.6,543.2 611.4,543.8 615.8,545.4 C619.5,546.7 622.6,547.8 625.7,550.3 C629.4,553.5 632.8,558.7 635.6,563.9 C638.7,569.7 639.9,577.7 643.0,583.7 C645.8,589.2 649.0,594.4 652.9,598.6 C656.5,602.5 660.9,605.1 665.2,608.5 C669.9,612.1 675.4,618.0 680.1,619.6 C683.5,620.7 686.2,620.7 690.0,619.6 C696.1,617.9 704.8,610.5 712.3,606.0" class="rpa"/>
<path d="M96.0,483.5 C104.2,482.9 112.5,482.6 120.7,481.8 C129.0,481.0 137.2,479.7 145.5,478.6 C153.7,477.4 162.0,476.5 170.2,474.9 C178.5,473.2 186.8,471.5 195.0,468.7 C203.3,465.8 212.1,462.0 219.7,457.5 C226.9,453.3 233.8,447.6 239.5,442.7 C244.3,438.6 248.1,433.4 251.9,430.3 C254.5,428.1 256.6,425.4 259.3,425.4 C262.3,425.3 266.8,429.1 269.2,431.6 C271.1,433.5 271.4,435.9 273.2,438.2 C275.8,441.3 280.0,446.3 283.8,448.1 C287.1,449.6 291.2,448.3 294.4,449.4 C297.3,450.4 300.2,451.8 302.3,454.0 C304.7,456.6 305.9,460.9 307.6,464.6 C309.4,468.7 310.8,473.8 312.9,477.8 C314.8,481.6 316.8,485.3 319.5,488.4 C322.1,491.5 325.6,493.6 328.7,496.3 C332.2,499.3 335.4,502.3 339.3,505.6 C344.1,509.6 350.5,513.5 355.2,518.8 C360.2,524.6 363.8,532.7 368.1,539.2 C372.2,545.2 376.1,551.6 380.5,556.5 C384.4,560.9 388.5,566.0 392.9,567.6 C396.4,569.0 400.1,567.3 404.0,567.6 C408.4,568.0 413.7,570.5 417.8,570.1 C421.5,569.8 424.4,568.7 427.7,566.4 C432.6,563.0 437.3,553.8 442.6,549.1 C447.3,544.9 452.3,541.5 457.4,539.2 C462.2,537.1 467.1,535.6 472.3,535.5 C477.8,535.4 483.8,537.7 489.6,539.2 C495.4,540.6 502.2,541.4 506.9,544.1 C511.0,546.6 513.8,549.9 516.8,554.0 C520.6,559.3 522.7,567.4 526.7,573.8 C530.9,580.6 536.4,587.7 541.5,593.6 C546.3,599.1 551.9,604.2 556.4,608.5 C560.0,611.8 562.4,616.2 566.3,617.1 C570.5,618.1 576.4,615.8 581.1,613.4 C586.4,610.7 590.7,604.7 596.0,601.0 C601.4,597.3 607.9,593.5 613.3,591.1 C617.6,589.3 621.3,587.9 625.7,587.4 C630.3,586.9 635.9,587.6 640.5,588.7 C644.9,589.7 648.7,592.2 652.9,593.6 C657.0,595.0 660.9,597.0 665.2,597.3 C669.9,597.6 674.8,595.9 680.1,594.8 C686.2,593.6 694.0,591.2 699.9,589.9 C704.5,588.9 708.1,588.2 712.3,587.4" class="ks"/>
</g>
<line x1="516.5" y1="395.0" x2="525.2" y2="395.0" class="expl" stroke-dasharray="none"/>
<line x1="539.8" y1="395.0" x2="548.5" y2="395.0" class="expl" stroke-dasharray="none"/>
<circle cx="532.5" cy="395.0" r="5.2" fill="#f00"/>
<line x1="516.5" y1="425.0" x2="548.5" y2="425.0" class="bse"/>
<line x1="516.5" y1="455.0" x2="548.5" y2="455.0" class="rpa" stroke-dasharray="8.7 4.3"/>
<line x1="516.5" y1="485.0" x2="548.5" y2="485.0" class="ks"/>
<text x="566.5" y="404.1" font-size="26.2" text-anchor="start" >EXP.</text>
<text x="566.5" y="430.8" font-size="26.2" text-anchor="start" >BSE-G<tspan font-size="21" dy="8">0</tspan><tspan dy="-8">W</tspan><tspan font-size="21" dy="8">0</tspan></text>
<text x="566.5" y="460.8" font-size="26.2" text-anchor="start" >RPA-G<tspan font-size="21" dy="8">0</tspan><tspan dy="-8">W</tspan><tspan font-size="21" dy="8">0</tspan></text>
<text x="566.5" y="494.2" font-size="26.2" text-anchor="start" >RPA-KS</text>
<text x="343.0" y="397.0" font-size="30.0" text-anchor="start" >(b)</text>
<text x="405.0" y="397.0" font-size="30.0" text-anchor="start" >Anatase</text>
<text x="588.7" y="527.0" font-size="31.0" text-anchor="start" >E</text>
<line x1="624.7" y1="507.0" x2="624.7" y2="525.8" stroke="#000" stroke-width="2.4"/>
<line x1="615.1" y1="525.8" x2="634.3" y2="525.8" stroke="#000" stroke-width="2.4"/>
<text x="642.1" y="527.0" font-size="30.0" text-anchor="start" >c</text>
<text transform="translate(26.0,497.0) rotate(-90)" font-size="30" text-anchor="middle"><tspan font-size="34">&#949;</tspan><tspan font-size="20" dy="8">1</tspan><tspan dy="-8"> (</tspan><tspan font-size="34">&#969;</tspan>)</text>
<defs><clipPath id="cpC"><rect x="96.5" y="722.7" width="614.5" height="260.3"/></clipPath></defs>
<g clip-path="url(#cpC)">
<path d="M97.7,983.0 C107.2,983.1 115.9,983.3 126.3,983.4 C138.9,983.5 153.5,983.5 167.9,983.4 C183.5,983.3 201.4,983.0 216.5,982.9 C229.7,982.8 240.8,983.0 253.7,982.9 C267.6,982.8 284.9,982.8 297.0,982.0 C305.9,981.4 314.7,982.1 319.9,979.3 C323.6,977.3 325.1,973.8 327.3,970.6 C329.7,967.3 332.8,963.1 333.5,959.5 C334.1,956.5 332.5,953.6 332.3,950.8 C332.1,948.3 331.8,945.6 332.3,943.4 C332.7,941.6 333.7,939.9 334.7,938.5 C335.8,937.1 336.8,935.2 338.5,934.8 C340.8,934.2 344.8,937.8 348.4,937.7 C352.5,937.6 358.7,935.8 362.0,933.0 C364.9,930.5 366.0,925.9 367.6,922.4 C369.2,919.1 370.5,915.9 371.9,912.5 C373.3,908.9 374.7,905.2 376.1,901.4 C377.5,897.4 379.3,892.9 380.5,889.0 C381.6,885.5 382.3,882.0 383.0,879.1 C383.5,876.8 383.2,875.0 384.2,872.9 C385.6,870.1 388.8,864.9 391.6,864.3 C394.2,863.7 398.2,866.0 400.3,868.0 C402.3,869.8 402.5,873.3 404.2,875.4 C405.9,877.4 408.1,878.7 410.4,880.3 C413.0,882.2 416.2,884.6 419.1,886.0 C421.6,887.2 423.6,888.5 426.5,888.5 C430.7,888.5 437.4,885.9 442.1,883.6 C446.5,881.3 451.4,877.8 453.7,874.9 C455.2,873.0 454.8,870.7 456.2,869.2 C457.6,867.5 459.9,866.5 462.4,865.5 C465.5,864.2 469.9,862.3 473.5,862.5 C476.9,862.8 480.8,865.0 483.4,866.7 C485.5,868.1 486.8,869.9 488.4,871.7 C490.0,873.6 491.0,876.0 492.8,877.9 C494.8,879.9 498.2,881.4 500.2,883.3 C501.9,884.9 502.7,886.8 504.4,888.3 C506.5,890.0 508.8,891.4 511.9,892.7 C516.2,894.6 523.7,897.6 528.7,897.2 C532.8,896.8 536.2,894.2 539.6,892.2 C542.9,890.2 546.3,888.0 549.0,885.3 C551.5,882.7 552.7,879.3 555.2,876.6 C557.7,873.9 561.2,871.6 563.8,869.2 C566.1,867.1 567.9,864.9 570.0,863.0 C571.9,861.2 573.1,859.6 575.7,858.1 C579.4,855.9 586.0,852.8 591.0,852.6 C595.9,852.5 601.0,854.7 605.4,856.8 C609.6,858.9 612.8,863.1 617.0,865.0 C621.2,866.8 625.6,866.8 630.6,868.0 C636.9,869.4 645.8,870.2 651.6,872.9 C656.6,875.3 660.2,879.3 664.0,882.3 C667.4,885.0 670.0,888.0 673.4,890.2 C676.9,892.5 681.1,893.8 685.0,895.7 C689.0,897.5 693.1,899.7 696.9,901.4 C700.3,902.9 703.5,904.2 706.8,905.6" class="expl"/>
</g>
<circle cx="97.7" cy="983.0" r="5.00" fill="#f00" stroke="#fff" stroke-width="0.8"/>
<circle cx="126.3" cy="983.4" r="5.00" fill="#f00" stroke="#fff" stroke-width="0.8"/>
<circle cx="167.9" cy="983.4" r="5.00" fill="#f00" stroke="#fff" stroke-width="0.8"/>
<circle cx="216.5" cy="982.9" r="5.00" fill="#f00" stroke="#fff" stroke-width="0.8"/>
<circle cx="253.7" cy="982.9" r="5.00" fill="#f00" stroke="#fff" stroke-width="0.8"/>
<circle cx="297.0" cy="982.0" r="5.00" fill="#f00" stroke="#fff" stroke-width="0.8"/>
<circle cx="319.9" cy="979.3" r="5.00" fill="#f00" stroke="#fff" stroke-width="0.8"/>
<circle cx="327.3" cy="970.6" r="5.00" fill="#f00" stroke="#fff" stroke-width="0.8"/>
<circle cx="333.5" cy="959.5" r="5.00" fill="#f00" stroke="#fff" stroke-width="0.8"/>
<circle cx="332.3" cy="950.8" r="5.00" fill="#f00" stroke="#fff" stroke-width="0.8"/>
<circle cx="332.3" cy="943.4" r="5.00" fill="#f00" stroke="#fff" stroke-width="0.8"/>
<circle cx="334.7" cy="938.5" r="5.00" fill="#f00" stroke="#fff" stroke-width="0.8"/>
<circle cx="338.5" cy="934.8" r="5.00" fill="#f00" stroke="#fff" stroke-width="0.8"/>
<circle cx="348.4" cy="937.7" r="5.00" fill="#f00" stroke="#fff" stroke-width="0.8"/>
<circle cx="362.0" cy="933.0" r="5.00" fill="#f00" stroke="#fff" stroke-width="0.8"/>
<circle cx="367.6" cy="922.4" r="5.00" fill="#f00" stroke="#fff" stroke-width="0.8"/>
<circle cx="371.9" cy="912.5" r="5.00" fill="#f00" stroke="#fff" stroke-width="0.8"/>
<circle cx="376.1" cy="901.4" r="5.00" fill="#f00" stroke="#fff" stroke-width="0.8"/>
<circle cx="380.5" cy="889.0" r="5.00" fill="#f00" stroke="#fff" stroke-width="0.8"/>
<circle cx="383.0" cy="879.1" r="5.00" fill="#f00" stroke="#fff" stroke-width="0.8"/>
<circle cx="384.2" cy="872.9" r="5.00" fill="#f00" stroke="#fff" stroke-width="0.8"/>
<circle cx="391.6" cy="864.3" r="5.00" fill="#f00" stroke="#fff" stroke-width="0.8"/>
<circle cx="400.3" cy="868.0" r="5.00" fill="#f00" stroke="#fff" stroke-width="0.8"/>
<circle cx="404.2" cy="875.4" r="5.00" fill="#f00" stroke="#fff" stroke-width="0.8"/>
<circle cx="410.4" cy="880.3" r="5.00" fill="#f00" stroke="#fff" stroke-width="0.8"/>
<circle cx="419.1" cy="886.0" r="5.00" fill="#f00" stroke="#fff" stroke-width="0.8"/>
<circle cx="426.5" cy="888.5" r="5.00" fill="#f00" stroke="#fff" stroke-width="0.8"/>
<circle cx="442.1" cy="883.6" r="5.00" fill="#f00" stroke="#fff" stroke-width="0.8"/>
<circle cx="453.7" cy="874.9" r="5.00" fill="#f00" stroke="#fff" stroke-width="0.8"/>
<circle cx="456.2" cy="869.2" r="5.00" fill="#f00" stroke="#fff" stroke-width="0.8"/>
<circle cx="462.4" cy="865.5" r="5.00" fill="#f00" stroke="#fff" stroke-width="0.8"/>
<circle cx="473.5" cy="862.5" r="5.00" fill="#f00" stroke="#fff" stroke-width="0.8"/>
<circle cx="483.4" cy="866.7" r="5.00" fill="#f00" stroke="#fff" stroke-width="0.8"/>
<circle cx="488.4" cy="871.7" r="5.00" fill="#f00" stroke="#fff" stroke-width="0.8"/>
<circle cx="492.8" cy="877.9" r="5.00" fill="#f00" stroke="#fff" stroke-width="0.8"/>
<circle cx="500.2" cy="883.3" r="5.00" fill="#f00" stroke="#fff" stroke-width="0.8"/>
<circle cx="504.4" cy="888.3" r="5.00" fill="#f00" stroke="#fff" stroke-width="0.8"/>
<circle cx="511.9" cy="892.7" r="5.00" fill="#f00" stroke="#fff" stroke-width="0.8"/>
<circle cx="528.7" cy="897.2" r="5.00" fill="#f00" stroke="#fff" stroke-width="0.8"/>
<circle cx="539.6" cy="892.2" r="5.00" fill="#f00" stroke="#fff" stroke-width="0.8"/>
<circle cx="549.0" cy="885.3" r="5.00" fill="#f00" stroke="#fff" stroke-width="0.8"/>
<circle cx="555.2" cy="876.6" r="5.00" fill="#f00" stroke="#fff" stroke-width="0.8"/>
<circle cx="563.8" cy="869.2" r="5.00" fill="#f00" stroke="#fff" stroke-width="0.8"/>
<circle cx="570.0" cy="863.0" r="5.00" fill="#f00" stroke="#fff" stroke-width="0.8"/>
<circle cx="575.7" cy="858.1" r="5.00" fill="#f00" stroke="#fff" stroke-width="0.8"/>
<circle cx="591.0" cy="852.6" r="5.00" fill="#f00" stroke="#fff" stroke-width="0.8"/>
<circle cx="605.4" cy="856.8" r="5.00" fill="#f00" stroke="#fff" stroke-width="0.8"/>
<circle cx="617.0" cy="865.0" r="5.00" fill="#f00" stroke="#fff" stroke-width="0.8"/>
<circle cx="630.6" cy="868.0" r="5.00" fill="#f00" stroke="#fff" stroke-width="0.8"/>
<circle cx="651.6" cy="872.9" r="5.00" fill="#f00" stroke="#fff" stroke-width="0.8"/>
<circle cx="664.0" cy="882.3" r="5.00" fill="#f00" stroke="#fff" stroke-width="0.8"/>
<circle cx="673.4" cy="890.2" r="5.00" fill="#f00" stroke="#fff" stroke-width="0.8"/>
<circle cx="685.0" cy="895.7" r="5.00" fill="#f00" stroke="#fff" stroke-width="0.8"/>
<circle cx="696.9" cy="901.4" r="5.00" fill="#f00" stroke="#fff" stroke-width="0.8"/>
<circle cx="706.8" cy="905.6" r="5.00" fill="#f00" stroke="#fff" stroke-width="0.8"/>
<g clip-path="url(#cpC)">
<path d="M96.0,983.2 C113.3,983.2 130.7,983.2 148.0,983.1 C165.3,983.0 182.7,982.7 200.0,982.3 C217.3,981.9 236.4,981.3 252.0,980.5 C264.7,979.9 275.9,979.4 286.6,978.3 C295.9,977.3 305.2,977.2 312.6,974.6 C318.8,972.4 324.3,968.8 328.5,964.9 C332.2,961.5 334.4,957.5 337.0,953.3 C339.7,948.9 342.0,944.2 344.1,939.2 C346.3,933.8 347.7,927.4 349.7,922.2 C351.5,917.6 352.9,912.5 355.4,909.4 C357.4,907.0 360.1,906.1 362.5,904.4 C364.9,902.8 367.3,901.4 369.6,899.5 C372.0,897.4 374.4,895.2 376.7,892.4 C379.2,889.2 381.5,885.2 383.7,881.1 C386.3,876.4 388.2,870.0 390.8,865.5 C393.0,861.7 395.2,856.4 397.9,855.6 C400.0,855.0 402.7,856.9 405.0,858.4 C407.9,860.2 410.7,866.0 413.5,866.2 C415.8,866.4 418.2,863.9 420.3,861.8 C423.0,859.1 424.9,854.1 427.7,850.6 C430.7,847.1 434.1,844.0 437.6,840.8 C441.4,837.3 445.9,832.8 450.0,830.9 C453.3,829.3 456.6,828.7 459.9,828.9 C463.2,829.1 466.5,830.2 469.8,832.1 C473.9,834.5 478.0,839.1 482.2,843.2 C487.0,848.0 492.5,854.9 497.0,859.3 C500.5,862.7 503.6,865.1 506.9,868.0 C510.2,870.9 513.6,874.5 516.8,876.6 C519.3,878.3 521.8,880.5 524.2,880.3 C526.7,880.2 529.3,877.9 531.6,875.4 C535.2,871.6 538.3,864.1 541.5,858.1 C544.9,851.7 548.1,844.9 551.4,838.3 C554.7,831.7 558.8,823.5 561.3,818.5 C562.9,815.4 563.7,813.7 565.0,811.0 C566.6,807.7 568.0,802.8 570.1,800.4 C571.5,798.6 573.4,797.7 575.1,796.9 C576.7,796.1 578.5,796.5 580.1,795.4 C582.3,793.8 584.3,790.1 586.2,787.3 C588.0,784.4 589.7,781.5 591.2,778.3 C592.8,774.8 593.7,770.7 595.2,767.2 C596.7,763.7 598.4,759.9 600.3,757.1 C601.8,754.9 603.5,751.9 605.3,751.6 C606.9,751.3 608.7,753.1 610.3,754.1 C612.1,755.2 613.8,756.5 615.4,758.1 C617.2,760.0 618.6,763.2 620.4,765.2 C622.0,766.8 623.6,767.7 625.4,769.2 C627.6,770.9 630.2,773.7 632.5,774.7 C634.2,775.5 635.8,775.0 637.5,775.7 C639.5,776.6 641.6,778.8 643.6,779.8 C645.2,780.6 647.0,780.3 648.6,781.3 C650.7,782.5 652.6,785.6 654.6,787.3 C656.3,788.7 658.0,789.4 659.7,790.8 C661.7,792.6 663.6,796.1 665.7,797.4 C667.3,798.4 668.9,798.3 670.7,798.9 C672.9,799.6 675.6,801.1 677.8,801.4 C679.6,801.6 681.1,800.5 682.8,800.9 C685.1,801.4 687.5,805.1 689.9,805.4 C691.9,805.7 694.0,803.7 695.9,803.4 C697.6,803.1 699.5,804.2 700.9,803.4 C702.6,802.5 703.3,799.6 705.0,797.4 C707.1,794.3 710.3,790.3 713.0,786.8" class="bse"/>
</g>
<line x1="132.0" y1="750.8" x2="140.7" y2="750.8" class="expl" stroke-dasharray="none"/>
<line x1="155.3" y1="750.8" x2="164.0" y2="750.8" class="expl" stroke-dasharray="none"/>
<circle cx="148.0" cy="750.8" r="5.2" fill="#f00"/>
<line x1="132.0" y1="780.8" x2="164.0" y2="780.8" class="bse"/>
<text x="182.0" y="759.9" font-size="26.2" text-anchor="start" >EXP.</text>
<text x="182.0" y="786.6" font-size="26.2" text-anchor="start" >BSE-G<tspan font-size="21" dy="8">0</tspan><tspan dy="-8">W</tspan><tspan font-size="21" dy="8">0</tspan></text>
<text x="342.7" y="765.2" font-size="30.0" text-anchor="start" >(c)</text>
<text x="405.3" y="765.2" font-size="30.0" text-anchor="start" >Anatase</text>
<text x="158.4" y="823.3" font-size="31.0" text-anchor="start" >E</text>
<line x1="194.4" y1="803.3" x2="194.4" y2="822.1" stroke="#000" stroke-width="2.4"/>
<line x1="184.8" y1="822.1" x2="204.0" y2="822.1" stroke="#000" stroke-width="2.4"/>
<text x="211.8" y="823.3" font-size="30.0" text-anchor="start" >c</text>
<text transform="translate(32.5,854.0) rotate(-90)" font-size="30" text-anchor="middle"><tspan font-size="34">&#945;</tspan> (10<tspan font-size="20" dy="-15">5</tspan><tspan dy="15">cm</tspan><tspan font-size="20" dy="-15">-1</tspan><tspan dy="15">)</tspan></text>
<defs><clipPath id="cpD"><rect x="867.0" y="10.6" width="615.0" height="260.3"/></clipPath></defs>
<g clip-path="url(#cpD)">
<path d="M868.0,271.0 C875.0,271.0 882.0,271.0 889.0,271.0 C896.0,271.0 903.2,271.0 910.0,271.0 C916.5,271.0 922.2,270.9 929.0,271.0 C937.0,271.1 946.6,271.3 955.0,271.5 C962.9,271.7 970.3,271.9 978.0,272.0 C985.7,272.1 993.6,272.0 1001.0,272.0 C1007.9,272.0 1014.3,272.0 1021.0,272.0 C1027.9,272.0 1034.6,272.0 1042.0,272.0 C1050.2,272.0 1059.5,272.5 1068.0,272.0 C1076.2,271.5 1084.6,272.0 1092.0,269.2 C1099.5,266.3 1109.3,260.2 1112.5,254.7 C1114.8,250.7 1112.9,246.0 1113.7,241.6 C1114.6,236.9 1117.2,232.3 1118.0,227.4 C1118.8,222.4 1118.1,216.9 1118.4,212.0 C1118.7,207.5 1119.1,203.4 1119.6,199.0 C1120.2,194.3 1121.2,189.5 1122.0,184.7 C1122.8,180.0 1123.5,175.2 1124.4,170.5 C1125.3,165.8 1126.8,160.9 1127.4,156.3 C1128.1,151.9 1127.9,147.6 1128.4,143.3 C1129.0,138.7 1130.1,134.1 1130.8,129.5 C1131.4,125.0 1132.2,120.6 1132.2,116.0 C1132.2,111.3 1130.1,106.3 1130.8,101.8 C1131.4,97.2 1134.9,93.4 1136.2,88.7 C1137.6,83.6 1138.4,77.8 1138.6,72.1 C1138.8,66.3 1137.1,60.1 1137.4,54.4 C1137.7,48.9 1138.6,38.7 1140.2,38.5 C1142.0,38.3 1146.4,49.8 1148.1,55.6 C1149.7,61.0 1149.8,66.5 1150.4,72.1 C1151.1,78.0 1152.1,83.8 1152.1,89.9 C1152.1,96.4 1150.6,103.6 1150.4,110.1 C1150.3,116.2 1149.3,122.6 1150.9,127.8 C1152.4,132.6 1155.7,137.2 1159.2,140.4 C1162.6,143.4 1167.0,144.3 1171.3,146.8 C1176.3,149.7 1183.5,152.4 1187.2,157.0 C1190.7,161.4 1190.3,168.7 1193.1,173.6 C1195.8,178.3 1199.9,181.1 1203.3,185.9 C1207.5,191.8 1212.0,200.4 1216.1,206.8 C1219.6,212.3 1221.4,218.9 1226.3,222.2 C1231.6,225.8 1240.2,226.5 1247.7,226.5 C1256.3,226.5 1266.5,223.9 1274.9,221.0 C1282.9,218.3 1290.3,214.0 1297.2,209.9 C1303.6,206.1 1309.5,202.3 1315.0,197.5 C1320.7,192.7 1326.3,186.5 1330.6,181.2 C1334.2,176.8 1336.9,173.0 1339.8,168.3 C1342.9,163.2 1344.3,156.0 1348.4,151.5 C1352.5,147.1 1359.0,141.5 1364.5,141.6 C1370.3,141.7 1377.2,149.0 1382.3,153.5 C1387.1,157.7 1391.1,162.9 1394.7,167.6 C1397.9,171.8 1400.0,176.0 1402.8,180.2 C1405.8,184.6 1408.3,189.4 1412.0,193.6 C1416.0,198.1 1420.9,202.2 1426.4,206.2 C1432.5,210.6 1439.8,215.4 1447.4,218.6 C1455.3,221.8 1464.4,223.0 1472.9,225.2" class="expl"/>
</g>
<circle cx="868.0" cy="271.0" r="5.10" fill="#f00" stroke="#fff" stroke-width="0.8"/>
<circle cx="889.0" cy="271.0" r="5.10" fill="#f00" stroke="#fff" stroke-width="0.8"/>
<circle cx="910.0" cy="271.0" r="5.10" fill="#f00" stroke="#fff" stroke-width="0.8"/>
<circle cx="929.0" cy="271.0" r="5.10" fill="#f00" stroke="#fff" stroke-width="0.8"/>
<circle cx="955.0" cy="271.5" r="5.10" fill="#f00" stroke="#fff" stroke-width="0.8"/>
<circle cx="978.0" cy="272.0" r="5.10" fill="#f00" stroke="#fff" stroke-width="0.8"/>
<circle cx="1001.0" cy="272.0" r="5.10" fill="#f00" stroke="#fff" stroke-width="0.8"/>
<circle cx="1021.0" cy="272.0" r="5.10" fill="#f00" stroke="#fff" stroke-width="0.8"/>
<circle cx="1042.0" cy="272.0" r="5.10" fill="#f00" stroke="#fff" stroke-width="0.8"/>
<circle cx="1068.0" cy="272.0" r="5.10" fill="#f00" stroke="#fff" stroke-width="0.8"/>
<circle cx="1092.0" cy="269.2" r="5.10" fill="#f00" stroke="#fff" stroke-width="0.8"/>
<circle cx="1112.5" cy="254.7" r="5.10" fill="#f00" stroke="#fff" stroke-width="0.8"/>
<circle cx="1113.7" cy="241.6" r="5.10" fill="#f00" stroke="#fff" stroke-width="0.8"/>
<circle cx="1118.0" cy="227.4" r="5.10" fill="#f00" stroke="#fff" stroke-width="0.8"/>
<circle cx="1118.4" cy="212.0" r="5.10" fill="#f00" stroke="#fff" stroke-width="0.8"/>
<circle cx="1119.6" cy="199.0" r="5.10" fill="#f00" stroke="#fff" stroke-width="0.8"/>
<circle cx="1122.0" cy="184.7" r="5.10" fill="#f00" stroke="#fff" stroke-width="0.8"/>
<circle cx="1124.4" cy="170.5" r="5.10" fill="#f00" stroke="#fff" stroke-width="0.8"/>
<circle cx="1127.4" cy="156.3" r="5.10" fill="#f00" stroke="#fff" stroke-width="0.8"/>
<circle cx="1128.4" cy="143.3" r="5.10" fill="#f00" stroke="#fff" stroke-width="0.8"/>
<circle cx="1130.8" cy="129.5" r="5.10" fill="#f00" stroke="#fff" stroke-width="0.8"/>
<circle cx="1132.2" cy="116.0" r="5.10" fill="#f00" stroke="#fff" stroke-width="0.8"/>
<circle cx="1130.8" cy="101.8" r="5.10" fill="#f00" stroke="#fff" stroke-width="0.8"/>
<circle cx="1136.2" cy="88.7" r="5.10" fill="#f00" stroke="#fff" stroke-width="0.8"/>
<circle cx="1138.6" cy="72.1" r="5.10" fill="#f00" stroke="#fff" stroke-width="0.8"/>
<circle cx="1137.4" cy="54.4" r="5.10" fill="#f00" stroke="#fff" stroke-width="0.8"/>
<circle cx="1140.2" cy="38.5" r="5.10" fill="#f00" stroke="#fff" stroke-width="0.8"/>
<circle cx="1148.1" cy="55.6" r="5.10" fill="#f00" stroke="#fff" stroke-width="0.8"/>
<circle cx="1150.4" cy="72.1" r="5.10" fill="#f00" stroke="#fff" stroke-width="0.8"/>
<circle cx="1152.1" cy="89.9" r="5.10" fill="#f00" stroke="#fff" stroke-width="0.8"/>
<circle cx="1150.4" cy="110.1" r="5.10" fill="#f00" stroke="#fff" stroke-width="0.8"/>
<circle cx="1150.9" cy="127.8" r="5.10" fill="#f00" stroke="#fff" stroke-width="0.8"/>
<circle cx="1159.2" cy="140.4" r="5.10" fill="#f00" stroke="#fff" stroke-width="0.8"/>
<circle cx="1171.3" cy="146.8" r="5.10" fill="#f00" stroke="#fff" stroke-width="0.8"/>
<circle cx="1187.2" cy="157.0" r="5.10" fill="#f00" stroke="#fff" stroke-width="0.8"/>
<circle cx="1193.1" cy="173.6" r="5.10" fill="#f00" stroke="#fff" stroke-width="0.8"/>
<circle cx="1203.3" cy="185.9" r="5.10" fill="#f00" stroke="#fff" stroke-width="0.8"/>
<circle cx="1216.1" cy="206.8" r="5.10" fill="#f00" stroke="#fff" stroke-width="0.8"/>
<circle cx="1226.3" cy="222.2" r="5.10" fill="#f00" stroke="#fff" stroke-width="0.8"/>
<circle cx="1247.7" cy="226.5" r="5.10" fill="#f00" stroke="#fff" stroke-width="0.8"/>
<circle cx="1274.9" cy="221.0" r="5.10" fill="#f00" stroke="#fff" stroke-width="0.8"/>
<circle cx="1297.2" cy="209.9" r="5.10" fill="#f00" stroke="#fff" stroke-width="0.8"/>
<circle cx="1315.0" cy="197.5" r="5.10" fill="#f00" stroke="#fff" stroke-width="0.8"/>
<circle cx="1330.6" cy="181.2" r="5.10" fill="#f00" stroke="#fff" stroke-width="0.8"/>
<circle cx="1339.8" cy="168.3" r="5.10" fill="#f00" stroke="#fff" stroke-width="0.8"/>
<circle cx="1348.4" cy="151.5" r="5.10" fill="#f00" stroke="#fff" stroke-width="0.8"/>
<circle cx="1364.5" cy="141.6" r="5.10" fill="#f00" stroke="#fff" stroke-width="0.8"/>
<circle cx="1382.3" cy="153.5" r="5.10" fill="#f00" stroke="#fff" stroke-width="0.8"/>
<circle cx="1394.7" cy="167.6" r="5.10" fill="#f00" stroke="#fff" stroke-width="0.8"/>
<circle cx="1402.8" cy="180.2" r="5.10" fill="#f00" stroke="#fff" stroke-width="0.8"/>
<circle cx="1412.0" cy="193.6" r="5.10" fill="#f00" stroke="#fff" stroke-width="0.8"/>
<circle cx="1426.4" cy="206.2" r="5.10" fill="#f00" stroke="#fff" stroke-width="0.8"/>
<circle cx="1447.4" cy="218.6" r="5.10" fill="#f00" stroke="#fff" stroke-width="0.8"/>
<circle cx="1472.9" cy="225.2" r="5.10" fill="#f00" stroke="#fff" stroke-width="0.8"/>
<g clip-path="url(#cpD)">
<path d="M866.0,272.5 C876.7,272.3 887.3,272.0 898.0,271.7 C908.7,271.4 919.3,271.2 930.0,270.8 C940.7,270.3 951.3,269.9 962.0,269.2 C972.7,268.4 983.9,267.2 994.0,266.5 C1003.1,265.9 1012.4,265.9 1020.0,265.2 C1026.0,264.7 1030.7,263.8 1036.0,263.1 C1041.3,262.4 1046.7,261.9 1052.0,260.9 C1057.4,260.0 1062.7,258.9 1068.0,257.2 C1073.4,255.4 1079.4,253.1 1084.0,250.3 C1088.1,247.8 1091.3,245.3 1094.7,241.7 C1098.7,237.5 1103.0,231.6 1106.0,225.9 C1109.2,220.1 1111.2,213.6 1113.1,207.0 C1115.2,200.2 1116.4,193.3 1117.9,185.7 C1119.6,176.9 1121.2,166.8 1122.6,157.3 C1124.0,147.8 1124.9,137.9 1126.2,128.9 C1127.3,120.6 1128.5,113.1 1129.7,105.2 C1130.9,97.3 1131.7,88.5 1133.3,81.5 C1134.6,75.8 1136.0,66.5 1138.0,66.2 C1139.4,65.9 1141.4,69.3 1142.7,72.1 C1144.9,76.4 1145.9,84.7 1147.5,91.0 C1149.0,97.3 1150.0,104.6 1152.3,109.7 C1154.0,113.6 1156.1,117.0 1158.7,119.4 C1161.1,121.4 1164.2,121.9 1166.8,123.4 C1169.5,124.9 1172.4,126.0 1174.9,128.3 C1177.9,130.9 1180.5,135.1 1183.0,138.7 C1185.4,142.4 1187.1,146.2 1189.4,150.0 C1191.9,154.2 1194.5,158.9 1197.5,163.0 C1200.4,167.0 1204.0,170.5 1207.2,174.3 C1210.4,178.0 1213.6,181.8 1216.9,185.6 C1220.1,189.3 1223.1,193.8 1226.6,196.9 C1229.6,199.6 1232.8,201.5 1236.2,203.3 C1239.8,205.2 1244.0,206.3 1247.5,208.2 C1251.0,210.0 1254.1,213.0 1257.2,214.6 C1260.0,216.1 1262.1,217.3 1265.3,217.9 C1269.4,218.6 1275.6,217.4 1280.0,217.5 C1283.7,217.7 1286.9,217.9 1290.0,218.6 C1292.8,219.2 1295.2,221.3 1297.7,221.1 C1300.3,220.9 1302.9,219.0 1305.4,217.3 C1308.1,215.3 1310.6,212.4 1313.0,209.6 C1315.7,206.5 1318.2,202.5 1320.7,199.4 C1322.9,196.6 1325.2,194.3 1327.1,191.7 C1329.0,189.2 1330.3,185.9 1332.2,184.0 C1333.8,182.5 1335.8,181.9 1337.4,180.8 C1338.8,179.8 1339.9,178.7 1341.2,177.6 C1342.5,176.4 1343.7,174.1 1345.0,173.8 C1346.2,173.5 1347.7,175.5 1348.9,175.0 C1350.4,174.5 1351.1,170.3 1352.7,168.6 C1354.2,167.2 1356.1,166.8 1357.8,165.4 C1359.9,163.9 1362.1,160.0 1364.2,159.7 C1366.0,159.4 1367.7,161.4 1369.4,162.2 C1371.1,163.1 1373.0,163.4 1374.5,164.8 C1376.5,166.7 1377.6,171.7 1379.6,173.8 C1381.1,175.4 1383.1,175.5 1384.7,177.0 C1386.6,178.6 1387.9,182.3 1389.8,183.4 C1391.4,184.2 1393.4,183.6 1395.0,184.0 C1396.3,184.3 1397.7,184.4 1398.8,185.3 C1400.3,186.5 1401.0,191.2 1402.6,191.7 C1404.1,192.1 1406.3,188.7 1407.8,189.1 C1409.5,189.6 1410.6,195.4 1412.2,195.5 C1414.0,195.7 1416.0,190.1 1418.0,189.8 C1419.7,189.5 1421.6,192.8 1423.1,192.3 C1425.1,191.7 1426.2,185.8 1428.2,184.0 C1429.8,182.6 1431.7,182.8 1433.4,181.4 C1435.6,179.7 1437.5,175.3 1439.8,173.8 C1441.4,172.6 1443.1,172.6 1444.9,171.8 C1446.9,171.0 1449.4,168.3 1451.3,168.6 C1453.2,169.0 1454.5,173.1 1456.4,173.8 C1458.0,174.3 1459.9,172.8 1461.5,173.1 C1463.3,173.5 1464.8,175.3 1466.6,176.3 C1468.6,177.4 1471.2,177.9 1473.0,179.5 C1475.1,181.3 1476.6,183.9 1478.2,186.6 C1480.0,189.6 1481.6,193.4 1483.3,196.8" class="bse"/>
<path d="M866.0,271.4 C887.3,271.0 908.7,270.5 930.0,270.1 C951.3,269.7 976.3,269.3 994.0,269.0 C1006.5,268.8 1015.3,268.8 1026.0,268.5 C1036.7,268.3 1048.1,268.1 1058.0,267.4 C1066.6,266.8 1074.8,265.9 1082.0,265.0 C1087.9,264.3 1092.3,263.7 1098.0,262.6 C1104.8,261.3 1114.2,259.5 1120.0,257.4 C1124.0,256.0 1126.7,254.8 1129.7,252.6 C1133.2,249.9 1136.5,245.9 1139.4,242.1 C1142.4,238.1 1145.0,233.5 1147.4,229.2 C1149.8,224.9 1151.8,220.8 1153.9,216.2 C1156.2,211.2 1158.2,205.5 1160.4,200.1 C1162.5,194.7 1164.6,189.2 1166.8,184.0 C1168.9,179.0 1170.7,173.7 1173.3,169.4 C1175.6,165.5 1178.3,162.3 1181.3,158.9 C1184.7,155.3 1188.8,151.6 1192.7,148.4 C1196.3,145.4 1199.9,142.2 1204.0,140.4 C1208.0,138.5 1213.0,137.6 1216.9,137.1 C1219.8,136.8 1222.2,136.4 1224.9,137.1 C1228.4,138.1 1232.3,140.6 1235.9,143.6 C1240.2,147.3 1244.1,153.5 1248.2,158.4 C1252.3,163.4 1256.2,169.0 1260.6,173.3 C1264.5,177.1 1268.6,180.0 1273.0,183.2 C1277.6,186.6 1283.0,190.5 1287.8,193.1 C1292.0,195.3 1296.2,195.9 1300.2,198.0 C1304.4,200.3 1308.0,205.2 1312.5,206.7 C1317.1,208.1 1322.2,207.5 1327.4,206.7 C1333.6,205.7 1341.3,203.7 1347.2,200.5 C1352.8,197.4 1357.6,192.9 1362.0,188.1 C1366.7,183.1 1370.3,176.6 1374.4,170.8 C1378.5,165.0 1382.7,159.5 1386.8,153.5 C1391.0,147.2 1394.8,139.7 1399.1,133.7 C1403.1,128.3 1407.2,122.2 1411.5,118.9 C1414.7,116.3 1418.2,113.6 1421.4,113.9 C1424.8,114.2 1428.1,118.0 1431.3,121.3 C1435.5,125.7 1439.5,132.9 1443.7,138.6 C1447.8,144.4 1452.4,149.8 1456.0,156.0 C1459.8,162.2 1462.0,168.6 1465.9,175.8 C1470.8,184.7 1477.5,195.6 1483.3,205.4" class="rpa"/>
<path d="M866.0,270.9 C882.0,270.5 899.6,270.3 914.0,269.8 C925.7,269.4 936.1,269.0 946.0,268.2 C954.6,267.5 962.0,266.7 970.0,265.6 C978.0,264.6 986.0,264.8 994.0,262.1 C1003.2,259.1 1017.1,251.0 1021.6,247.1 C1023.5,245.5 1023.7,244.2 1024.8,242.8 C1025.9,241.4 1027.0,240.0 1028.0,238.5 C1029.0,237.1 1029.8,235.5 1030.7,234.0 C1031.5,232.6 1032.2,232.0 1033.3,230.0 C1036.2,224.8 1042.4,210.6 1046.6,200.5 C1051.0,190.1 1053.9,176.2 1059.0,168.3 C1062.6,162.8 1066.7,159.9 1071.3,156.0 C1076.5,151.6 1082.7,146.7 1088.7,143.6 C1094.2,140.7 1106.1,137.8 1106.0,137.4 C1105.9,137.1 1090.0,140.9 1090.0,140.9 C1090.0,140.9 1101.6,136.7 1106.6,137.3 C1111.0,137.9 1114.9,140.7 1118.4,143.3 C1122.0,145.8 1124.4,149.3 1127.9,152.7 C1132.2,157.0 1137.4,162.2 1142.1,167.0 C1146.9,171.7 1151.4,177.1 1156.4,181.2 C1160.9,184.9 1165.8,187.5 1170.6,190.7 C1175.3,193.8 1180.0,197.3 1184.8,200.1 C1189.5,202.8 1194.2,206.1 1199.0,207.2 C1203.6,208.3 1208.5,207.8 1213.3,207.2 C1218.0,206.7 1224.5,205.3 1227.5,203.7 C1229.2,202.8 1229.5,202.1 1230.9,200.5 C1233.9,197.1 1238.8,188.9 1243.3,183.2 C1247.9,177.3 1253.3,171.9 1258.1,165.9 C1263.2,159.6 1268.3,152.5 1273.0,146.1 C1277.3,140.1 1280.5,134.0 1285.3,128.8 C1290.3,123.3 1297.5,114.5 1302.6,113.9 C1306.2,113.5 1309.6,116.2 1312.5,118.9 C1316.3,122.2 1319.2,128.5 1322.4,133.7 C1325.8,139.2 1328.7,145.3 1332.3,151.0 C1336.1,156.9 1341.1,162.0 1344.7,168.3 C1348.6,175.1 1351.0,184.1 1354.6,190.6 C1357.7,196.2 1360.4,202.1 1364.5,205.4 C1368.0,208.3 1372.6,210.6 1376.9,210.4 C1381.6,210.2 1387.2,203.5 1391.7,203.0 C1395.3,202.6 1398.1,203.9 1401.6,205.4 C1406.2,207.5 1411.4,212.4 1416.5,215.3 C1421.3,218.2 1426.4,219.9 1431.3,222.8 C1436.3,225.7 1440.9,229.6 1446.1,232.7 C1451.6,235.8 1457.4,239.1 1463.5,241.3 C1469.7,243.6 1476.7,244.6 1483.3,246.3" class="ks"/>
</g>
<line x1="903.0" y1="39.0" x2="911.7" y2="39.0" class="expl" stroke-dasharray="none"/>
<line x1="926.3" y1="39.0" x2="935.0" y2="39.0" class="expl" stroke-dasharray="none"/>
<circle cx="919.0" cy="39.0" r="5.2" fill="#f00"/>
<line x1="903.0" y1="69.0" x2="935.0" y2="69.0" class="bse"/>
<line x1="903.0" y1="99.0" x2="935.0" y2="99.0" class="rpa" stroke-dasharray="8.7 4.3"/>
<line x1="903.0" y1="129.0" x2="935.0" y2="129.0" class="ks"/>
<text x="953.0" y="48.1" font-size="26.2" text-anchor="start" >EXP.</text>
<text x="953.0" y="74.8" font-size="26.2" text-anchor="start" >BSE-G<tspan font-size="21" dy="8">0</tspan><tspan dy="-8">W</tspan><tspan font-size="21" dy="8">0</tspan></text>
<text x="953.0" y="104.8" font-size="26.2" text-anchor="start" >RPA-G<tspan font-size="21" dy="8">0</tspan><tspan dy="-8">W</tspan><tspan font-size="21" dy="8">0</tspan></text>
<text x="953.0" y="138.2" font-size="26.2" text-anchor="start" >RPA-KS</text>
<text x="1175.2" y="40.9" font-size="30.0" text-anchor="start" >(d)</text>
<text x="1237.0" y="40.9" font-size="30.0" text-anchor="start" >Anatase</text>
<text x="928.5" y="183.8" font-size="31.0" text-anchor="start" >E</text>
<line x1="957.5" y1="163.0" x2="957.5" y2="188.9" stroke="#000" stroke-width="2.7"/>
<line x1="963.7" y1="163.0" x2="963.7" y2="188.9" stroke="#000" stroke-width="2.7"/>
<text x="974.4" y="183.8" font-size="30.0" text-anchor="start" >c</text>
<text transform="translate(796.4,141.0) rotate(-90)" font-size="30" text-anchor="middle"><tspan font-size="34">&#949;</tspan><tspan font-size="20" dy="8">2</tspan><tspan dy="-8"> (</tspan><tspan font-size="34">&#969;</tspan>)</text>
<defs><clipPath id="cpE"><rect x="867.0" y="366.4" width="615.0" height="260.8"/></clipPath></defs>
<g clip-path="url(#cpE)">
<path d="M867.2,507.0 C873.4,507.2 879.5,507.4 885.8,507.5 C892.3,507.6 898.9,507.6 905.6,507.5 C912.5,507.4 919.8,507.5 926.6,507.0 C933.0,506.5 938.9,505.2 945.2,504.5 C951.7,503.8 958.4,503.3 965.0,502.8 C971.6,502.3 978.2,502.4 984.8,501.6 C991.4,500.8 998.0,499.0 1004.5,497.9 C1011.0,496.7 1017.4,496.4 1023.6,494.6 C1029.9,492.9 1036.1,489.7 1042.2,487.2 C1047.9,484.9 1053.4,483.1 1059.0,480.3 C1064.9,477.3 1071.8,473.7 1076.8,469.4 C1081.4,465.5 1085.1,461.3 1088.2,456.3 C1091.5,450.9 1093.0,443.7 1095.6,437.7 C1098.0,432.2 1101.0,427.0 1103.0,421.7 C1104.9,416.7 1105.6,411.8 1107.2,406.8 C1108.9,401.5 1110.9,395.6 1112.9,390.7 C1114.6,386.6 1116.3,382.5 1118.4,379.6 C1119.9,377.5 1121.5,374.6 1123.3,374.7 C1125.8,374.8 1129.6,381.3 1132.0,385.3 C1134.4,389.4 1135.8,394.2 1137.6,398.9 C1139.6,403.8 1141.7,408.8 1143.1,414.2 C1144.6,420.1 1145.9,426.9 1146.3,432.8 C1146.6,438.0 1145.3,442.8 1145.6,447.6 C1145.9,452.3 1147.4,456.5 1148.0,461.2 C1148.7,466.3 1149.4,471.6 1149.3,476.8 C1149.2,482.1 1148.2,487.4 1147.5,492.7 C1146.9,497.9 1145.9,503.4 1145.6,508.3 C1145.3,512.6 1144.3,517.1 1145.6,520.6 C1146.8,524.0 1149.9,527.3 1153.0,529.3 C1156.1,531.2 1160.3,530.1 1164.1,532.3 C1169.7,535.3 1176.1,544.5 1181.9,548.6 C1186.6,551.9 1190.9,554.3 1195.8,556.0 C1200.5,557.7 1205.5,558.5 1210.6,559.0 C1216.1,559.4 1223.1,560.4 1227.9,558.5 C1232.3,556.8 1234.8,551.8 1238.8,549.1 C1243.1,546.2 1249.0,544.0 1253.2,541.7 C1256.5,539.8 1258.4,537.5 1261.8,536.2 C1266.0,534.6 1272.1,534.8 1276.7,533.7 C1280.7,532.8 1284.0,531.6 1287.8,530.5 C1291.7,529.4 1295.6,528.5 1299.7,527.3 C1304.2,526.0 1308.8,524.1 1313.8,523.1 C1319.2,522.0 1325.7,521.1 1331.1,521.4 C1335.9,521.6 1341.1,522.4 1344.7,524.3 C1347.7,526.0 1349.3,529.0 1351.6,531.3 C1354.0,533.5 1356.9,535.7 1359.1,537.9 C1360.9,539.9 1362.6,541.2 1364.0,543.6 C1365.9,546.9 1366.1,552.5 1368.2,556.5 C1370.4,560.5 1374.4,563.7 1376.9,567.6 C1379.3,571.5 1380.1,577.4 1383.1,580.0 C1385.5,582.2 1388.6,582.5 1392.2,583.2 C1396.9,584.2 1403.4,584.2 1409.0,584.5 C1414.8,584.7 1420.7,585.2 1426.4,585.0 C1431.8,584.7 1437.1,584.3 1442.4,583.2 C1448.0,582.1 1453.6,579.3 1459.3,578.3 C1464.9,577.2 1470.6,577.3 1476.3,576.8" class="expl"/>
</g>
<circle cx="867.2" cy="507.0" r="5.10" fill="#f00" stroke="#fff" stroke-width="0.8"/>
<circle cx="885.8" cy="507.5" r="5.10" fill="#f00" stroke="#fff" stroke-width="0.8"/>
<circle cx="905.6" cy="507.5" r="5.10" fill="#f00" stroke="#fff" stroke-width="0.8"/>
<circle cx="926.6" cy="507.0" r="5.10" fill="#f00" stroke="#fff" stroke-width="0.8"/>
<circle cx="945.2" cy="504.5" r="5.10" fill="#f00" stroke="#fff" stroke-width="0.8"/>
<circle cx="965.0" cy="502.8" r="5.10" fill="#f00" stroke="#fff" stroke-width="0.8"/>
<circle cx="984.8" cy="501.6" r="5.10" fill="#f00" stroke="#fff" stroke-width="0.8"/>
<circle cx="1004.5" cy="497.9" r="5.10" fill="#f00" stroke="#fff" stroke-width="0.8"/>
<circle cx="1023.6" cy="494.6" r="5.10" fill="#f00" stroke="#fff" stroke-width="0.8"/>
<circle cx="1042.2" cy="487.2" r="5.10" fill="#f00" stroke="#fff" stroke-width="0.8"/>
<circle cx="1059.0" cy="480.3" r="5.10" fill="#f00" stroke="#fff" stroke-width="0.8"/>
<circle cx="1076.8" cy="469.4" r="5.10" fill="#f00" stroke="#fff" stroke-width="0.8"/>
<circle cx="1088.2" cy="456.3" r="5.10" fill="#f00" stroke="#fff" stroke-width="0.8"/>
<circle cx="1095.6" cy="437.7" r="5.10" fill="#f00" stroke="#fff" stroke-width="0.8"/>
<circle cx="1103.0" cy="421.7" r="5.10" fill="#f00" stroke="#fff" stroke-width="0.8"/>
<circle cx="1107.2" cy="406.8" r="5.10" fill="#f00" stroke="#fff" stroke-width="0.8"/>
<circle cx="1112.9" cy="390.7" r="5.10" fill="#f00" stroke="#fff" stroke-width="0.8"/>
<circle cx="1118.4" cy="379.6" r="5.10" fill="#f00" stroke="#fff" stroke-width="0.8"/>
<circle cx="1123.3" cy="374.7" r="5.10" fill="#f00" stroke="#fff" stroke-width="0.8"/>
<circle cx="1132.0" cy="385.3" r="5.10" fill="#f00" stroke="#fff" stroke-width="0.8"/>
<circle cx="1137.6" cy="398.9" r="5.10" fill="#f00" stroke="#fff" stroke-width="0.8"/>
<circle cx="1143.1" cy="414.2" r="5.10" fill="#f00" stroke="#fff" stroke-width="0.8"/>
<circle cx="1146.3" cy="432.8" r="5.10" fill="#f00" stroke="#fff" stroke-width="0.8"/>
<circle cx="1145.6" cy="447.6" r="5.10" fill="#f00" stroke="#fff" stroke-width="0.8"/>
<circle cx="1148.0" cy="461.2" r="5.10" fill="#f00" stroke="#fff" stroke-width="0.8"/>
<circle cx="1149.3" cy="476.8" r="5.10" fill="#f00" stroke="#fff" stroke-width="0.8"/>
<circle cx="1147.5" cy="492.7" r="5.10" fill="#f00" stroke="#fff" stroke-width="0.8"/>
<circle cx="1145.6" cy="508.3" r="5.10" fill="#f00" stroke="#fff" stroke-width="0.8"/>
<circle cx="1145.6" cy="520.6" r="5.10" fill="#f00" stroke="#fff" stroke-width="0.8"/>
<circle cx="1153.0" cy="529.3" r="5.10" fill="#f00" stroke="#fff" stroke-width="0.8"/>
<circle cx="1164.1" cy="532.3" r="5.10" fill="#f00" stroke="#fff" stroke-width="0.8"/>
<circle cx="1181.9" cy="548.6" r="5.10" fill="#f00" stroke="#fff" stroke-width="0.8"/>
<circle cx="1195.8" cy="556.0" r="5.10" fill="#f00" stroke="#fff" stroke-width="0.8"/>
<circle cx="1210.6" cy="559.0" r="5.10" fill="#f00" stroke="#fff" stroke-width="0.8"/>
<circle cx="1227.9" cy="558.5" r="5.10" fill="#f00" stroke="#fff" stroke-width="0.8"/>
<circle cx="1238.8" cy="549.1" r="5.10" fill="#f00" stroke="#fff" stroke-width="0.8"/>
<circle cx="1253.2" cy="541.7" r="5.10" fill="#f00" stroke="#fff" stroke-width="0.8"/>
<circle cx="1261.8" cy="536.2" r="5.10" fill="#f00" stroke="#fff" stroke-width="0.8"/>
<circle cx="1276.7" cy="533.7" r="5.10" fill="#f00" stroke="#fff" stroke-width="0.8"/>
<circle cx="1287.8" cy="530.5" r="5.10" fill="#f00" stroke="#fff" stroke-width="0.8"/>
<circle cx="1299.7" cy="527.3" r="5.10" fill="#f00" stroke="#fff" stroke-width="0.8"/>
<circle cx="1313.8" cy="523.1" r="5.10" fill="#f00" stroke="#fff" stroke-width="0.8"/>
<circle cx="1331.1" cy="521.4" r="5.10" fill="#f00" stroke="#fff" stroke-width="0.8"/>
<circle cx="1344.7" cy="524.3" r="5.10" fill="#f00" stroke="#fff" stroke-width="0.8"/>
<circle cx="1351.6" cy="531.3" r="5.10" fill="#f00" stroke="#fff" stroke-width="0.8"/>
<circle cx="1359.1" cy="537.9" r="5.10" fill="#f00" stroke="#fff" stroke-width="0.8"/>
<circle cx="1364.0" cy="543.6" r="5.10" fill="#f00" stroke="#fff" stroke-width="0.8"/>
<circle cx="1368.2" cy="556.5" r="5.10" fill="#f00" stroke="#fff" stroke-width="0.8"/>
<circle cx="1376.9" cy="567.6" r="5.10" fill="#f00" stroke="#fff" stroke-width="0.8"/>
<circle cx="1383.1" cy="580.0" r="5.10" fill="#f00" stroke="#fff" stroke-width="0.8"/>
<circle cx="1392.2" cy="583.2" r="5.10" fill="#f00" stroke="#fff" stroke-width="0.8"/>
<circle cx="1409.0" cy="584.5" r="5.10" fill="#f00" stroke="#fff" stroke-width="0.8"/>
<circle cx="1426.4" cy="585.0" r="5.10" fill="#f00" stroke="#fff" stroke-width="0.8"/>
<circle cx="1442.4" cy="583.2" r="5.10" fill="#f00" stroke="#fff" stroke-width="0.8"/>
<circle cx="1459.3" cy="578.3" r="5.10" fill="#f00" stroke="#fff" stroke-width="0.8"/>
<circle cx="1476.3" cy="576.8" r="5.10" fill="#f00" stroke="#fff" stroke-width="0.8"/>
<g clip-path="url(#cpE)">
<path d="M866.0,504.5 C882.5,503.9 899.0,503.6 915.5,502.6 C932.0,501.5 949.7,500.3 965.0,498.4 C978.3,496.7 991.0,494.5 1002.1,492.2 C1011.2,490.3 1018.6,488.4 1026.8,486.0 C1035.1,483.5 1044.2,480.7 1051.6,477.3 C1058.0,474.4 1063.5,471.2 1068.9,467.4 C1074.2,463.7 1079.5,459.4 1083.7,455.1 C1087.6,451.1 1090.4,447.1 1093.6,442.7 C1097.0,438.0 1100.1,432.5 1103.5,427.9 C1106.7,423.5 1110.2,418.8 1113.4,415.5 C1115.9,412.9 1118.6,409.4 1120.8,409.3 C1122.6,409.2 1124.4,411.0 1125.8,413.0 C1128.0,416.1 1129.4,422.2 1130.7,427.9 C1132.4,435.0 1133.2,444.1 1134.4,452.6 C1135.7,461.4 1136.7,470.7 1138.1,479.8 C1139.6,488.9 1141.2,499.0 1143.1,507.0 C1144.6,513.5 1145.8,520.5 1148.0,524.3 C1149.4,526.7 1151.0,528.1 1153.0,529.3 C1155.1,530.6 1158.1,530.3 1160.4,531.8 C1163.1,533.4 1165.4,537.2 1167.8,539.2 C1169.9,540.8 1172.0,541.0 1174.0,542.9 C1176.7,545.4 1178.6,550.6 1181.4,554.0 C1184.3,557.6 1187.5,561.6 1191.3,563.9 C1195.0,566.1 1199.2,566.8 1203.7,567.6 C1208.9,568.6 1215.8,569.4 1221.0,568.9 C1225.5,568.4 1229.3,566.4 1233.4,565.2 C1237.5,563.9 1241.6,562.5 1245.7,561.4 C1249.8,560.4 1253.9,560.6 1258.1,559.0 C1263.0,557.1 1267.9,552.4 1273.0,550.3 C1277.8,548.4 1283.5,548.4 1287.8,546.6 C1291.6,545.0 1294.2,542.7 1297.7,540.4 C1301.6,537.8 1305.8,533.8 1310.1,531.8 C1314.0,529.8 1318.3,527.9 1322.4,528.0 C1326.6,528.2 1330.7,531.2 1334.8,533.0 C1339.0,534.9 1343.2,536.6 1347.2,539.2 C1351.5,541.9 1355.9,545.1 1359.6,549.1 C1363.4,553.3 1365.9,559.7 1369.4,563.9 C1372.5,567.6 1375.9,571.4 1379.3,573.4 C1382.0,575.0 1385.3,576.2 1387.6,576.1 C1389.2,576.1 1390.3,574.4 1391.7,574.5 C1393.1,574.6 1394.4,576.4 1395.8,576.5 C1397.2,576.6 1398.5,574.9 1399.9,574.9 C1401.3,574.9 1402.7,576.7 1404.0,576.5 C1405.5,576.2 1406.6,573.2 1408.1,572.8 C1409.4,572.4 1410.9,573.7 1412.2,573.4 C1413.6,573.0 1414.9,570.6 1416.3,570.3 C1417.6,570.0 1418.9,571.5 1420.4,571.4 C1422.3,571.2 1424.3,568.6 1426.6,568.3 C1429.1,568.0 1432.3,568.7 1434.8,570.3 C1437.9,572.3 1440.1,577.7 1443.0,580.6 C1445.6,583.1 1448.3,584.6 1451.2,586.8 C1454.5,589.3 1458.2,591.8 1461.5,595.0 C1465.1,598.5 1468.7,603.4 1471.7,607.3 C1474.2,610.6 1476.2,613.6 1478.3,616.6 C1480.3,619.3 1482.1,621.9 1484.0,624.5" class="bse"/>
<path d="M866.0,511.5 C882.5,511.2 899.0,511.5 915.5,510.7 C932.0,510.0 948.5,508.5 965.0,507.0 C981.5,505.6 999.2,504.1 1014.4,502.1 C1027.7,500.3 1040.5,498.2 1051.6,495.9 C1060.7,494.0 1068.1,492.3 1076.3,489.7 C1084.6,487.0 1093.7,483.6 1101.0,479.8 C1107.5,476.5 1113.1,472.2 1118.4,468.7 C1122.9,465.7 1126.9,463.0 1130.7,460.0 C1134.3,457.2 1137.5,453.8 1140.6,451.4 C1143.2,449.4 1145.5,447.5 1148.0,446.4 C1150.4,445.4 1152.8,444.6 1155.5,444.7 C1158.5,444.8 1162.3,446.0 1165.4,447.6 C1168.5,449.4 1171.1,451.8 1174.0,455.1 C1178.0,459.5 1182.0,467.3 1186.4,472.4 C1190.3,477.0 1194.8,480.1 1198.7,484.8 C1203.1,489.9 1207.0,496.3 1211.1,502.1 C1215.2,507.8 1219.4,513.6 1223.5,519.4 C1227.6,525.2 1231.4,531.8 1235.9,536.7 C1239.8,541.1 1243.4,545.2 1248.2,547.8 C1253.2,550.6 1259.9,552.0 1265.5,552.8 C1270.6,553.5 1275.3,553.2 1280.4,552.8 C1285.9,552.4 1292.5,551.5 1297.7,550.3 C1302.2,549.3 1305.7,548.5 1310.1,546.6 C1315.5,544.3 1321.5,540.3 1327.4,536.7 C1333.8,532.9 1340.6,527.3 1347.2,524.3 C1353.0,521.8 1358.7,519.8 1364.5,519.4 C1370.2,519.0 1376.4,520.2 1381.8,521.9 C1387.1,523.5 1392.3,525.8 1396.7,529.3 C1401.4,533.1 1405.4,538.6 1409.0,544.1 C1412.9,550.1 1415.6,557.3 1418.9,563.9 C1422.2,570.5 1425.1,577.5 1428.8,583.7 C1432.5,589.8 1437.0,595.6 1441.2,601.0 C1445.2,606.2 1449.2,611.8 1453.6,615.9 C1457.5,619.5 1461.4,624.4 1465.9,624.5 C1471.2,624.6 1477.5,617.1 1483.3,613.4" class="rpa"/>
<path d="M866.0,492.2 C882.5,490.9 899.0,490.5 915.5,488.5 C932.0,486.4 949.9,484.1 965.0,479.8 C978.4,476.0 992.4,470.8 1002.1,465.0 C1009.4,460.5 1013.8,454.6 1019.4,450.1 C1024.5,446.0 1029.9,440.8 1034.2,439.0 C1037.0,437.8 1039.2,437.4 1041.7,437.7 C1044.2,438.1 1046.6,439.6 1049.1,441.5 C1052.4,444.0 1055.6,448.4 1059.0,452.6 C1063.0,457.6 1067.3,463.9 1071.3,469.9 C1075.6,476.2 1079.3,483.2 1083.7,489.7 C1088.3,496.4 1093.5,503.2 1098.6,509.5 C1103.4,515.5 1108.7,521.2 1113.4,526.8 C1117.7,531.9 1121.2,538.1 1125.8,541.7 C1129.6,544.7 1133.9,546.5 1138.1,547.8 C1142.2,549.1 1146.4,549.3 1150.5,549.6 C1154.6,549.9 1158.9,549.9 1162.9,549.6 C1166.7,549.3 1170.0,549.0 1174.0,547.8 C1179.2,546.3 1185.4,543.0 1191.3,540.4 C1197.7,537.7 1204.6,534.8 1211.1,531.8 C1217.7,528.7 1224.4,524.6 1230.9,521.9 C1236.8,519.4 1242.4,516.1 1248.2,515.7 C1253.9,515.3 1260.1,517.5 1265.5,519.4 C1270.8,521.2 1275.9,523.6 1280.4,526.8 C1285.0,530.1 1289.3,533.9 1292.8,539.2 C1297.0,545.7 1298.8,556.3 1302.6,563.9 C1306.3,571.1 1310.8,577.4 1315.0,583.7 C1319.1,589.7 1323.2,595.6 1327.4,601.0 C1331.4,606.2 1335.6,612.0 1339.8,615.9 C1343.1,619.0 1346.3,623.0 1349.7,623.3 C1352.9,623.6 1356.3,620.7 1359.6,618.4 C1363.7,615.4 1367.5,609.1 1371.9,606.0 C1375.8,603.2 1380.1,600.2 1384.3,599.8 C1388.3,599.4 1392.4,602.0 1396.7,603.5 C1401.4,605.2 1405.9,608.6 1411.5,609.7 C1418.1,611.0 1426.2,610.3 1433.8,609.7 C1441.8,609.1 1450.3,607.4 1458.5,606.0 C1466.8,604.5 1475.0,602.7 1483.3,601.0" class="ks"/>
</g>
<line x1="1286.6" y1="395.0" x2="1295.3" y2="395.0" class="expl" stroke-dasharray="none"/>
<line x1="1309.9" y1="395.0" x2="1318.6" y2="395.0" class="expl" stroke-dasharray="none"/>
<circle cx="1302.6" cy="395.0" r="5.2" fill="#f00"/>
<line x1="1286.6" y1="425.0" x2="1318.6" y2="425.0" class="bse"/>
<line x1="1286.6" y1="455.0" x2="1318.6" y2="455.0" class="rpa" stroke-dasharray="8.7 4.3"/>
<line x1="1286.6" y1="485.0" x2="1318.6" y2="485.0" class="ks"/>
<text x="1336.6" y="404.1" font-size="26.2" text-anchor="start" >EXP.</text>
<text x="1336.6" y="430.8" font-size="26.2" text-anchor="start" >BSE-G<tspan font-size="21" dy="8">0</tspan><tspan dy="-8">W</tspan><tspan font-size="21" dy="8">0</tspan></text>
<text x="1336.6" y="460.8" font-size="26.2" text-anchor="start" >RPA-G<tspan font-size="21" dy="8">0</tspan><tspan dy="-8">W</tspan><tspan font-size="21" dy="8">0</tspan></text>
<text x="1336.6" y="494.2" font-size="26.2" text-anchor="start" >RPA-KS</text>
<text x="929.8" y="409.3" font-size="30.0" text-anchor="start" >(e)</text>
<text x="991.0" y="409.3" font-size="30.0" text-anchor="start" >Anatase</text>
<text x="1420.3" y="533.0" font-size="31.0" text-anchor="start" >E</text>
<line x1="1449.3" y1="512.2" x2="1449.3" y2="538.1" stroke="#000" stroke-width="2.7"/>
<line x1="1455.5" y1="512.2" x2="1455.5" y2="538.1" stroke="#000" stroke-width="2.7"/>
<text x="1466.2" y="533.0" font-size="30.0" text-anchor="start" >c</text>
<text transform="translate(796.4,497.0) rotate(-90)" font-size="30" text-anchor="middle"><tspan font-size="34">&#949;</tspan><tspan font-size="20" dy="8">1</tspan><tspan dy="-8"> (</tspan><tspan font-size="34">&#969;</tspan>)</text>
<defs><clipPath id="cpF"><rect x="867.0" y="722.7" width="615.0" height="260.3"/></clipPath></defs>
<g clip-path="url(#cpF)">
<path d="M867.2,983.3 C885.4,983.3 904.6,983.6 921.7,983.5 C936.9,983.5 950.4,983.0 965.0,983.0 C979.7,983.0 994.6,983.4 1009.5,983.5 C1024.3,983.6 1039.2,983.6 1054.0,983.5 C1068.9,983.4 1088.0,985.4 1098.6,983.0 C1104.9,981.6 1109.5,980.3 1112.9,976.3 C1117.0,971.6 1117.5,962.0 1119.6,954.6 C1121.8,946.8 1124.1,938.2 1125.8,930.6 C1127.3,923.6 1128.8,917.0 1129.5,910.5 C1130.2,904.6 1129.2,898.9 1130.2,893.4 C1131.3,888.2 1134.6,883.1 1135.7,878.4 C1136.6,874.3 1137.2,870.4 1136.9,866.7 C1136.7,863.3 1133.2,857.8 1134.4,856.8 C1136.1,855.6 1147.0,862.4 1150.5,866.0 C1153.2,868.7 1152.7,874.0 1155.5,874.9 C1159.4,876.2 1168.1,869.1 1174.0,866.7 C1179.3,864.6 1184.2,861.2 1189.3,861.3 C1194.7,861.3 1200.8,864.6 1205.7,867.5 C1210.5,870.4 1215.1,874.7 1218.5,878.6 C1221.5,882.0 1223.3,885.9 1225.5,889.5 C1227.4,892.8 1228.5,896.5 1230.9,899.4 C1233.4,902.4 1236.6,905.0 1240.3,907.1 C1244.4,909.3 1248.8,911.9 1254.4,912.0 C1262.4,912.1 1274.5,907.1 1283.6,902.6 C1292.7,898.2 1301.2,891.4 1308.8,885.3 C1315.9,879.6 1323.5,874.2 1327.9,867.5 C1331.9,861.3 1332.2,853.6 1334.8,846.9 C1337.4,840.4 1341.0,834.3 1343.5,827.9 C1345.9,821.7 1347.4,815.0 1349.7,809.1 C1351.8,803.7 1354.3,798.9 1356.6,793.7 C1358.9,788.5 1360.9,783.5 1363.3,777.7 C1366.0,770.9 1367.6,761.0 1371.9,755.4 C1375.6,750.5 1381.0,745.2 1386.3,744.8 C1392.0,744.2 1401.0,750.5 1405.3,754.2 C1408.4,756.8 1408.7,759.8 1411.5,762.8 C1415.4,767.1 1422.4,771.8 1427.6,776.4 C1432.7,780.9 1437.3,786.2 1442.4,790.0 C1447.1,793.5 1452.1,796.6 1456.8,798.7 C1460.9,800.5 1464.8,802.4 1468.9,802.4 C1473.2,802.5 1477.6,799.9 1482.0,798.7" class="expl"/>
</g>
<circle cx="867.2" cy="983.3" r="5.00" fill="#f00" stroke="#fff" stroke-width="0.8"/>
<circle cx="921.7" cy="983.5" r="5.00" fill="#f00" stroke="#fff" stroke-width="0.8"/>
<circle cx="965.0" cy="983.0" r="5.00" fill="#f00" stroke="#fff" stroke-width="0.8"/>
<circle cx="1009.5" cy="983.5" r="5.00" fill="#f00" stroke="#fff" stroke-width="0.8"/>
<circle cx="1054.0" cy="983.5" r="5.00" fill="#f00" stroke="#fff" stroke-width="0.8"/>
<circle cx="1098.6" cy="983.0" r="5.00" fill="#f00" stroke="#fff" stroke-width="0.8"/>
<circle cx="1112.9" cy="976.3" r="5.00" fill="#f00" stroke="#fff" stroke-width="0.8"/>
<circle cx="1119.6" cy="954.6" r="5.00" fill="#f00" stroke="#fff" stroke-width="0.8"/>
<circle cx="1125.8" cy="930.6" r="5.00" fill="#f00" stroke="#fff" stroke-width="0.8"/>
<circle cx="1129.5" cy="910.5" r="5.00" fill="#f00" stroke="#fff" stroke-width="0.8"/>
<circle cx="1130.2" cy="893.4" r="5.00" fill="#f00" stroke="#fff" stroke-width="0.8"/>
<circle cx="1135.7" cy="878.4" r="5.00" fill="#f00" stroke="#fff" stroke-width="0.8"/>
<circle cx="1136.9" cy="866.7" r="5.00" fill="#f00" stroke="#fff" stroke-width="0.8"/>
<circle cx="1134.4" cy="856.8" r="5.00" fill="#f00" stroke="#fff" stroke-width="0.8"/>
<circle cx="1150.5" cy="866.0" r="5.00" fill="#f00" stroke="#fff" stroke-width="0.8"/>
<circle cx="1155.5" cy="874.9" r="5.00" fill="#f00" stroke="#fff" stroke-width="0.8"/>
<circle cx="1174.0" cy="866.7" r="5.00" fill="#f00" stroke="#fff" stroke-width="0.8"/>
<circle cx="1189.3" cy="861.3" r="5.00" fill="#f00" stroke="#fff" stroke-width="0.8"/>
<circle cx="1205.7" cy="867.5" r="5.00" fill="#f00" stroke="#fff" stroke-width="0.8"/>
<circle cx="1218.5" cy="878.6" r="5.00" fill="#f00" stroke="#fff" stroke-width="0.8"/>
<circle cx="1225.5" cy="889.5" r="5.00" fill="#f00" stroke="#fff" stroke-width="0.8"/>
<circle cx="1230.9" cy="899.4" r="5.00" fill="#f00" stroke="#fff" stroke-width="0.8"/>
<circle cx="1240.3" cy="907.1" r="5.00" fill="#f00" stroke="#fff" stroke-width="0.8"/>
<circle cx="1254.4" cy="912.0" r="5.00" fill="#f00" stroke="#fff" stroke-width="0.8"/>
<circle cx="1283.6" cy="902.6" r="5.00" fill="#f00" stroke="#fff" stroke-width="0.8"/>
<circle cx="1308.8" cy="885.3" r="5.00" fill="#f00" stroke="#fff" stroke-width="0.8"/>
<circle cx="1327.9" cy="867.5" r="5.00" fill="#f00" stroke="#fff" stroke-width="0.8"/>
<circle cx="1334.8" cy="846.9" r="5.00" fill="#f00" stroke="#fff" stroke-width="0.8"/>
<circle cx="1343.5" cy="827.9" r="5.00" fill="#f00" stroke="#fff" stroke-width="0.8"/>
<circle cx="1349.7" cy="809.1" r="5.00" fill="#f00" stroke="#fff" stroke-width="0.8"/>
<circle cx="1356.6" cy="793.7" r="5.00" fill="#f00" stroke="#fff" stroke-width="0.8"/>
<circle cx="1363.3" cy="777.7" r="5.00" fill="#f00" stroke="#fff" stroke-width="0.8"/>
<circle cx="1371.9" cy="755.4" r="5.00" fill="#f00" stroke="#fff" stroke-width="0.8"/>
<circle cx="1386.3" cy="744.8" r="5.00" fill="#f00" stroke="#fff" stroke-width="0.8"/>
<circle cx="1405.3" cy="754.2" r="5.00" fill="#f00" stroke="#fff" stroke-width="0.8"/>
<circle cx="1411.5" cy="762.8" r="5.00" fill="#f00" stroke="#fff" stroke-width="0.8"/>
<circle cx="1427.6" cy="776.4" r="5.00" fill="#f00" stroke="#fff" stroke-width="0.8"/>
<circle cx="1442.4" cy="790.0" r="5.00" fill="#f00" stroke="#fff" stroke-width="0.8"/>
<circle cx="1456.8" cy="798.7" r="5.00" fill="#f00" stroke="#fff" stroke-width="0.8"/>
<circle cx="1468.9" cy="802.4" r="5.00" fill="#f00" stroke="#fff" stroke-width="0.8"/>
<circle cx="1482.0" cy="798.7" r="5.00" fill="#f00" stroke="#fff" stroke-width="0.8"/>
<g clip-path="url(#cpF)">
<path d="M866.0,983.6 C894.8,983.3 925.7,983.2 952.4,982.5 C975.5,982.0 997.8,981.2 1017.2,980.4 C1033.0,979.7 1048.5,979.7 1060.4,978.2 C1068.9,977.2 1075.3,976.2 1082.0,973.9 C1088.2,971.8 1094.6,969.3 1099.3,965.3 C1103.9,961.3 1106.9,955.7 1110.1,950.2 C1113.4,944.2 1116.2,937.3 1118.7,930.7 C1121.2,924.3 1123.0,919.0 1125.2,911.3 C1128.3,900.2 1132.1,881.2 1134.4,870.4 C1136.0,863.5 1136.3,857.6 1138.1,853.1 C1139.5,850.0 1140.9,846.4 1143.1,845.7 C1145.1,845.0 1147.9,847.4 1150.5,848.2 C1153.3,849.0 1156.5,851.1 1159.2,850.6 C1161.8,850.2 1164.1,847.4 1166.6,845.7 C1169.1,844.1 1171.3,842.5 1174.0,840.8 C1177.0,838.8 1180.5,835.2 1183.9,834.6 C1187.1,833.9 1190.4,835.2 1193.8,836.3 C1197.8,837.5 1202.0,840.2 1206.2,842.0 C1210.3,843.8 1214.8,844.7 1218.5,846.9 C1222.2,849.2 1225.1,852.9 1228.4,855.6 C1231.7,858.2 1234.7,861.0 1238.3,863.0 C1242.1,865.1 1246.5,865.6 1250.7,868.0 C1255.6,870.7 1260.6,876.9 1265.5,879.1 C1269.6,880.9 1274.0,880.7 1277.9,881.6 C1281.4,882.4 1284.5,882.6 1287.8,884.0 C1291.8,885.8 1296.2,892.1 1300.2,892.2 C1303.6,892.3 1306.9,889.5 1310.1,886.5 C1314.5,882.4 1318.8,874.8 1322.4,868.0 C1326.4,860.5 1328.9,850.9 1332.3,843.2 C1335.5,836.2 1338.7,829.5 1342.2,823.4 C1345.4,818.0 1350.6,813.1 1352.1,808.6 C1353.2,805.3 1351.7,802.4 1352.6,799.5 C1353.6,796.4 1356.4,793.9 1357.9,790.7 C1359.7,787.0 1360.8,781.8 1362.3,778.3 C1363.5,775.6 1364.5,773.4 1365.8,771.3 C1367.1,769.3 1368.7,767.9 1370.2,766.0 C1372.0,763.9 1373.9,759.8 1375.5,759.0 C1376.4,758.5 1377.3,758.6 1378.2,759.0 C1379.6,759.6 1381.0,763.2 1382.6,763.4 C1384.0,763.5 1385.5,760.5 1387.0,760.7 C1389.0,761.0 1391.2,767.8 1393.1,767.8 C1395.0,767.8 1396.9,761.4 1398.4,761.6 C1400.2,761.9 1401.1,772.0 1402.8,772.2 C1404.4,772.3 1406.5,764.1 1408.1,764.3 C1410.0,764.4 1411.3,776.4 1413.4,776.6 C1415.2,776.8 1417.6,767.9 1419.5,767.8 C1421.1,767.7 1422.8,773.3 1423.9,773.1 C1425.3,772.8 1425.3,766.3 1426.6,763.4 C1427.7,760.7 1429.4,758.3 1431.0,756.3 C1432.4,754.6 1434.1,754.0 1435.4,751.9 C1437.2,749.0 1438.5,743.9 1439.8,739.6 C1441.2,735.1 1442.2,729.7 1443.3,725.5 C1444.2,722.2 1445.1,719.7 1446.0,716.7" class="bse"/>
</g>
<line x1="903.3" y1="751.0" x2="912.0" y2="751.0" class="expl" stroke-dasharray="none"/>
<line x1="926.6" y1="751.0" x2="935.3" y2="751.0" class="expl" stroke-dasharray="none"/>
<circle cx="919.3" cy="751.0" r="5.2" fill="#f00"/>
<line x1="903.3" y1="781.0" x2="935.3" y2="781.0" class="bse"/>
<text x="953.3" y="760.1" font-size="26.2" text-anchor="start" >EXP.</text>
<text x="953.3" y="786.8" font-size="26.2" text-anchor="start" >BSE-G<tspan font-size="21" dy="8">0</tspan><tspan dy="-8">W</tspan><tspan font-size="21" dy="8">0</tspan></text>
<text x="1113.5" y="755.5" font-size="30.0" text-anchor="start" >(f)</text>
<text x="1175.8" y="755.5" font-size="30.0" text-anchor="start" >Anatase</text>
<text x="929.2" y="840.1" font-size="31.0" text-anchor="start" >E</text>
<line x1="958.2" y1="819.3" x2="958.2" y2="845.2" stroke="#000" stroke-width="2.7"/>
<line x1="964.4" y1="819.3" x2="964.4" y2="845.2" stroke="#000" stroke-width="2.7"/>
<text x="975.1" y="840.1" font-size="30.0" text-anchor="start" >c</text>
<text transform="translate(802.8,854.5) rotate(-90)" font-size="30" text-anchor="middle"><tspan font-size="34">&#945;</tspan> (10<tspan font-size="20" dy="-15">5</tspan><tspan dy="15">cm</tspan><tspan font-size="20" dy="-15">-1</tspan><tspan dy="15">)</tspan></text>
</svg></body></html>
